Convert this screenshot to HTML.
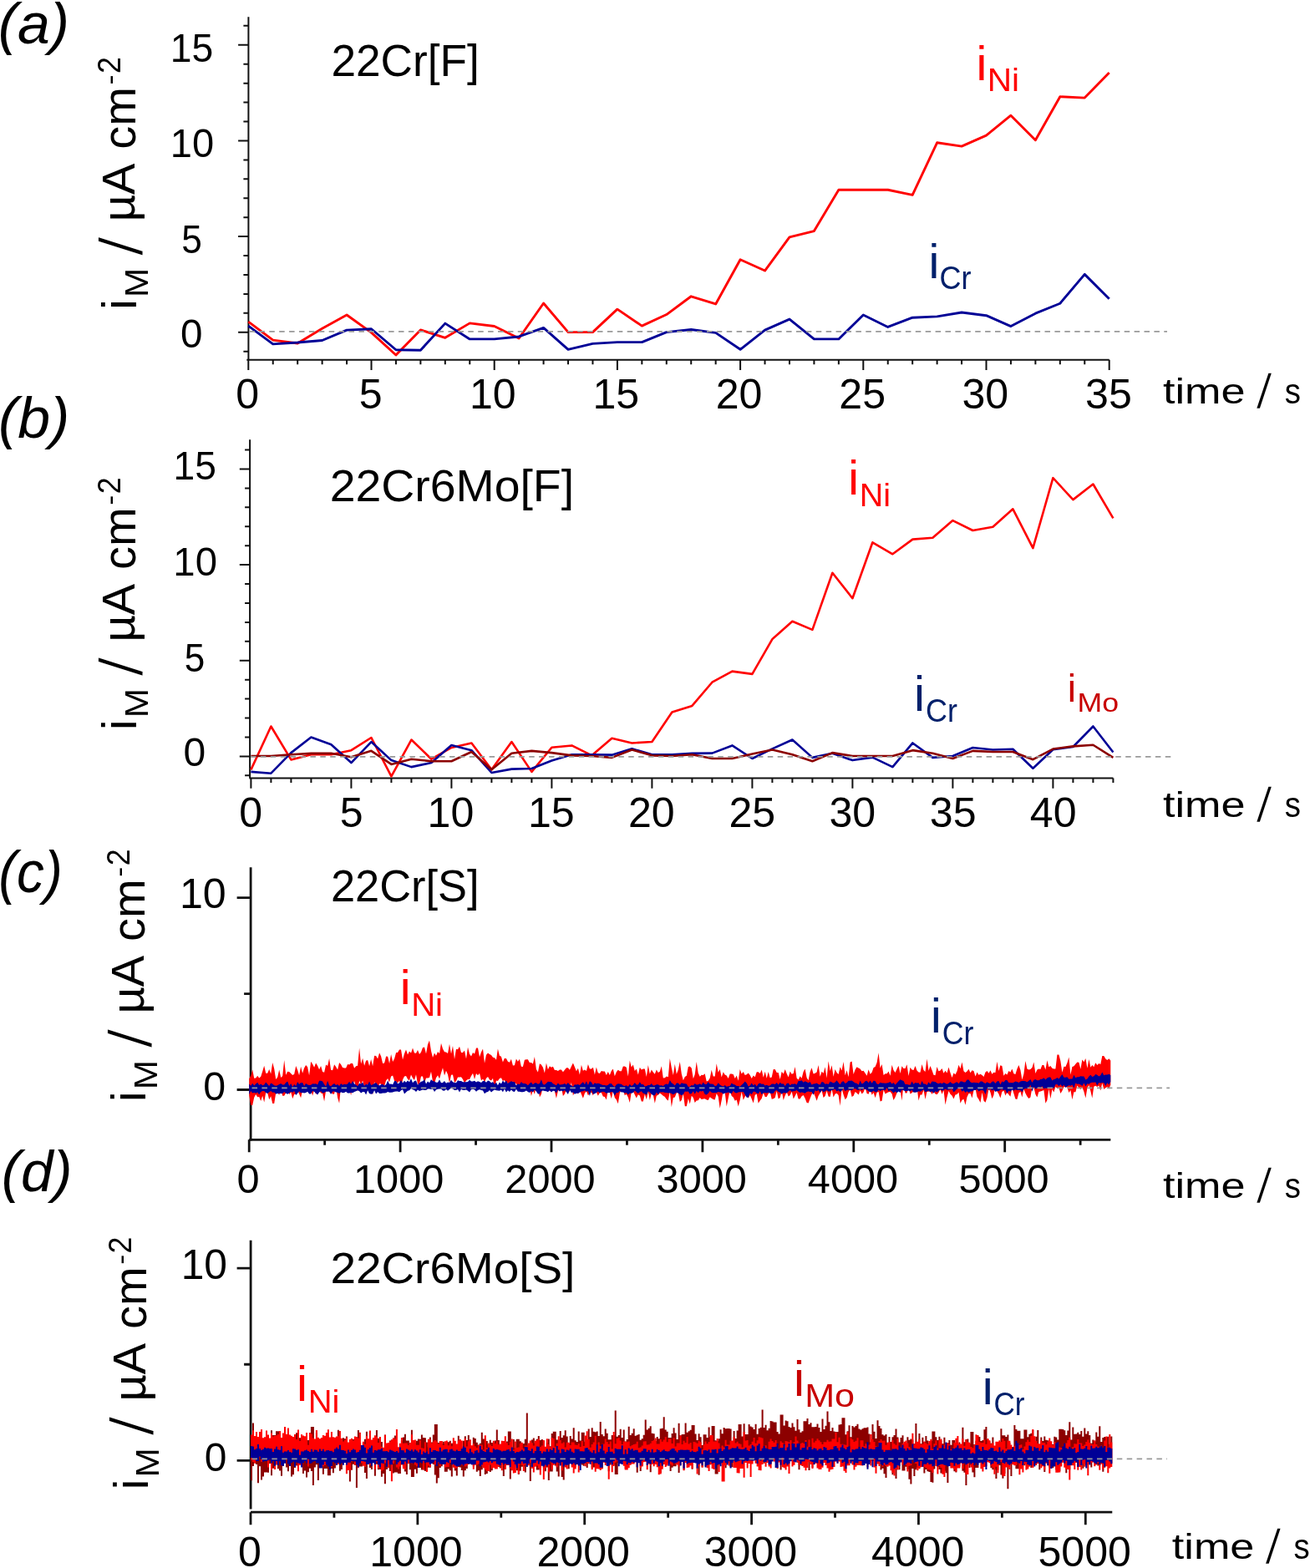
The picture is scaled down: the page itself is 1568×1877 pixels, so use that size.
<!DOCTYPE html>
<html><head><meta charset="utf-8"><title>Figure</title>
<style>html,body{margin:0;padding:0;background:#fff;overflow:hidden;}svg{display:block;}</style>
</head><body>
<svg width="1568" height="1877" viewBox="0 0 1568 1877" font-family="'Liberation Sans', Arial, sans-serif" font-size="100">
<rect width="1568" height="1877" fill="#fff"/>
<path d="M297.4 20.3V430.8" stroke="#111" stroke-width="2.0"/><path d="M295.3 430.8H1327.7" stroke="#111" stroke-width="2.0"/><path d="M297.4 420.68h-6.0M297.4 397.75h-12.3M297.4 374.82h-6.0M297.4 351.89h-6.0M297.4 328.96h-6.0M297.4 306.03h-6.0M297.4 283.1h-12.3M297.4 260.17h-6.0M297.4 237.24h-6.0M297.4 214.31h-6.0M297.4 191.38h-6.0M297.4 168.45h-12.3M297.4 145.52h-6.0M297.4 122.59h-6.0M297.4 99.66h-6.0M297.4 76.73h-6.0M297.4 53.8h-12.3M297.4 30.87h-6.0M297.3 430.8v12.3M326.74 430.8v5.5M356.18 430.8v5.5M385.62 430.8v5.5M415.06 430.8v5.5M444.5 430.8v12.3M473.94 430.8v5.5M503.38 430.8v5.5M532.82 430.8v5.5M562.26 430.8v5.5M591.7 430.8v12.3M621.14 430.8v5.5M650.58 430.8v5.5M680.02 430.8v5.5M709.46 430.8v5.5M738.9 430.8v12.3M768.34 430.8v5.5M797.78 430.8v5.5M827.22 430.8v5.5M856.66 430.8v5.5M886.1 430.8v12.3M915.54 430.8v5.5M944.98 430.8v5.5M974.42 430.8v5.5M1003.86 430.8v5.5M1033.3 430.8v12.3M1062.74 430.8v5.5M1092.18 430.8v5.5M1121.62 430.8v5.5M1151.06 430.8v5.5M1180.5 430.8v12.3M1209.94 430.8v5.5M1239.38 430.8v5.5M1268.82 430.8v5.5M1298.26 430.8v5.5M1327.7 430.8v12.3" stroke="#111" stroke-width="2.0"/>
<polyline points="297.3,385.042 326.74,407.064 356.18,410.964 385.62,393.3 415.06,377.013 444.5,398.118 473.94,424.957 503.38,394.906 532.82,404.311 562.26,386.877 591.7,390.547 621.14,405 650.58,363.019 680.02,397.659 709.46,397.659 738.9,370.131 768.34,390.089 797.78,376.554 827.22,354.761 856.66,363.937 886.1,310.716 915.54,324.021 944.98,283.876 974.42,276.536 1003.86,227.215 1033.3,227.215 1062.74,227.215 1092.18,233.408 1121.62,170.782 1151.06,175.141 1180.5,162.065 1209.94,138.207 1239.38,167.8 1268.82,115.726 1298.26,117.103 1327.7,87.051" fill="none" stroke="#ff0000" stroke-width="2.9" stroke-linejoin="round"/>
<polyline points="297.3,390.089 326.74,411.882 356.18,410.046 385.62,407.523 415.06,395.135 444.5,393.759 473.94,418.764 503.38,419.222 532.82,387.106 562.26,405.917 591.7,405.917 621.14,402.935 650.58,392.383 680.02,418.305 709.46,411.423 738.9,409.588 768.34,409.588 797.78,397.659 827.22,394.447 856.66,398.347 886.1,418.305 915.54,395.135 944.98,382.06 974.42,405.917 1003.86,405.917 1033.3,377.013 1062.74,391.465 1092.18,380.224 1121.62,378.848 1151.06,374.031 1180.5,377.701 1209.94,390.547 1239.38,375.178 1268.82,363.249 1298.26,328.38 1327.7,357.743" fill="none" stroke="#000096" stroke-width="2.9" stroke-linejoin="round"/>
<path d="M298.5 396.8H1397" stroke="#999" stroke-width="1.8" stroke-dasharray="6.5 5.4"/>
<path d="M299.1 526.3V931.4" stroke="#111" stroke-width="2.0"/><path d="M298.4 931.4H1332.4" stroke="#111" stroke-width="2.0"/><path d="M299.1 928.33h-6.0M299.1 905.4h-12.3M299.1 882.47h-6.0M299.1 859.54h-6.0M299.1 836.61h-6.0M299.1 813.68h-6.0M299.1 790.75h-12.3M299.1 767.82h-6.0M299.1 744.89h-6.0M299.1 721.96h-6.0M299.1 699.03h-6.0M299.1 676.1h-12.3M299.1 653.17h-6.0M299.1 630.24h-6.0M299.1 607.31h-6.0M299.1 584.38h-6.0M299.1 561.45h-12.3M299.1 538.52h-6.0M300.4 931.4v12.3M324.4 931.4v5.5M348.4 931.4v5.5M372.4 931.4v5.5M396.4 931.4v5.5M420.4 931.4v12.3M444.4 931.4v5.5M468.4 931.4v5.5M492.4 931.4v5.5M516.4 931.4v5.5M540.4 931.4v12.3M564.4 931.4v5.5M588.4 931.4v5.5M612.4 931.4v5.5M636.4 931.4v5.5M660.4 931.4v12.3M684.4 931.4v5.5M708.4 931.4v5.5M732.4 931.4v5.5M756.4 931.4v5.5M780.4 931.4v12.3M804.4 931.4v5.5M828.4 931.4v5.5M852.4 931.4v5.5M876.4 931.4v5.5M900.4 931.4v12.3M924.4 931.4v5.5M948.4 931.4v5.5M972.4 931.4v5.5M996.4 931.4v5.5M1020.4 931.4v12.3M1044.4 931.4v5.5M1068.4 931.4v5.5M1092.4 931.4v5.5M1116.4 931.4v5.5M1140.4 931.4v12.3M1164.4 931.4v5.5M1188.4 931.4v5.5M1212.4 931.4v5.5M1236.4 931.4v5.5M1260.4 931.4v12.3M1284.4 931.4v5.5M1308.4 931.4v5.5M1332.4 931.4v5.5" stroke="#111" stroke-width="2.0"/>
<polyline points="300.4,921.329 324.4,869.484 348.4,909.4 372.4,903.206 396.4,903.206 420.4,898.159 444.4,883.019 468.4,929.358 492.4,885.542 516.4,908.712 540.4,894.948 564.4,889.442 588.4,921.329 612.4,888.066 636.4,923.852 660.4,894.718 684.4,892.424 708.4,904.353 732.4,883.707 756.4,889.442 780.4,888.066 804.4,852.509 828.4,844.938 852.4,816.722 876.4,803.646 900.4,806.858 924.4,765.107 948.4,743.773 972.4,753.867 996.4,685.735 1020.4,716.245 1044.4,649.26 1068.4,663.254 1092.4,645.59 1116.4,643.755 1140.4,623.109 1164.4,635.037 1188.4,630.679 1212.4,609.345 1236.4,656.142 1260.4,572.182 1284.4,598.104 1308.4,579.523 1332.4,620.356" fill="none" stroke="#ff0000" stroke-width="2.6" stroke-linejoin="round"/>
<polyline points="300.4,923.852 324.4,925.687 348.4,901.141 372.4,882.56 396.4,891.277 420.4,913.07 444.4,888.066 468.4,910.088 492.4,918.117 516.4,913.07 540.4,891.965 564.4,898.159 588.4,924.999 612.4,920.64 636.4,919.952 660.4,910.547 684.4,903.206 708.4,903.206 732.4,903.665 756.4,896.324 780.4,903.206 804.4,903.206 828.4,901.83 852.4,901.6 876.4,892.424 900.4,908.023 924.4,896.324 948.4,885.542 972.4,906.876 996.4,901.83 1020.4,910.088 1044.4,906.647 1068.4,918.117 1092.4,889.442 1116.4,906.876 1140.4,905.041 1164.4,894.948 1188.4,897.471 1212.4,896.783 1236.4,919.723 1260.4,897.242 1284.4,894.03 1308.4,869.484 1332.4,900.453" fill="none" stroke="#000096" stroke-width="2.6" stroke-linejoin="round"/>
<polyline points="300.4,905.041 324.4,905.041 348.4,903.206 372.4,901.83 396.4,901.83 420.4,906.188 444.4,898.847 468.4,914.905 492.4,908.712 516.4,911.235 540.4,911.235 564.4,899.994 588.4,921.329 612.4,901.83 636.4,898.847 660.4,901.141 684.4,904.353 708.4,905.041 732.4,906.876 756.4,897.471 780.4,904.353 804.4,905.041 828.4,903.206 852.4,908.023 876.4,908.023 900.4,902.518 924.4,897.471 948.4,903.206 972.4,911.235 996.4,901.141 1020.4,905.041 1044.4,905.041 1068.4,905.041 1092.4,898.159 1116.4,901.83 1140.4,908.023 1164.4,898.847 1188.4,899.994 1212.4,899.994 1236.4,909.17 1260.4,896.553 1284.4,893.342 1308.4,891.736 1332.4,906.876" fill="none" stroke="#8c0000" stroke-width="2.6" stroke-linejoin="round"/>
<path d="M300 905.8H1404" stroke="#999" stroke-width="1.8" stroke-dasharray="6.5 5.4"/>
<path d="M300.1 1038.3V1365.5" stroke="#111" stroke-width="2.8"/><path d="M298.2 1364.3H1329.33" stroke="#111" stroke-width="2.8"/><path d="M300.1 1074.6h-16.5M300.1 1189.55h-8.0M300.1 1304.5h-16.5M298.2 1364.3v15M388.65 1364.3v6.5M479.1 1364.3v15M569.55 1364.3v6.5M660 1364.3v15M750.45 1364.3v6.5M840.9 1364.3v15M931.35 1364.3v6.5M1021.8 1364.3v15M1112.25 1364.3v6.5M1202.7 1364.3v15M1293.15 1364.3v6.5" stroke="#111" stroke-width="2.8"/>
<path d="M298.2 1291.2L300.2 1287.7L302.2 1280.6L304.2 1290.8L306.2 1290.5L308.2 1287.7L310.2 1290.4L312.2 1288.8L314.2 1282.6L316.2 1275.7L318.2 1284.8L320.2 1284.8L322.2 1280.1L324.2 1285.5L326.2 1272.1L328.2 1279.2L330.2 1292.0L332.2 1289.6L334.2 1280.5L336.2 1289.9L338.2 1287.9L340.2 1269.0L342.2 1286.7L344.2 1282.8L346.2 1283.0L348.2 1285.0L350.2 1287.0L352.2 1285.8L354.2 1276.1L356.2 1281.0L358.1 1287.2L360.1 1276.7L362.1 1284.8L364.1 1278.4L366.1 1274.9L368.1 1277.2L370.1 1287.3L372.1 1270.7L374.1 1273.7L376.1 1277.8L378.1 1272.4L380.1 1275.7L382.1 1280.3L384.1 1276.1L386.1 1283.0L388.1 1283.7L390.1 1274.6L392.1 1275.9L394.1 1267.1L396.1 1280.7L398.1 1281.3L400.1 1274.3L402.1 1276.9L404.1 1280.6L406.1 1272.0L408.1 1274.3L410.1 1278.0L412.1 1278.4L414.1 1278.4L416.1 1274.1L418.1 1274.6L420.1 1272.7L422.1 1273.0L424.1 1278.8L426.1 1276.2L428.1 1275.7L430.1 1254.5L432.1 1273.6L434.1 1266.7L436.1 1275.8L438.1 1269.7L440.1 1268.9L442.1 1276.3L444.1 1267.9L446.1 1276.2L448.1 1263.7L450.1 1263.9L452.1 1267.6L454.1 1260.3L456.1 1264.5L458.1 1273.0L460.1 1272.6L462.1 1264.4L464.1 1264.8L466.1 1272.9L468.1 1262.0L470.1 1271.1L472.1 1267.3L474.1 1260.1L476.0 1260.1L478.0 1256.6L480.0 1256.6L482.0 1268.4L484.0 1261.2L486.0 1256.4L488.0 1262.5L490.0 1258.5L492.0 1260.5L494.0 1254.4L496.0 1260.5L498.0 1260.7L500.0 1257.0L502.0 1261.9L504.0 1259.5L506.0 1254.0L508.0 1253.5L510.0 1261.6L512.0 1250.3L514.0 1245.5L516.0 1258.1L518.0 1266.1L520.0 1260.4L522.0 1263.8L524.0 1259.1L526.0 1261.1L528.0 1248.8L530.0 1255.5L532.0 1259.3L534.0 1259.5L536.0 1261.0L538.0 1249.8L540.0 1261.6L542.0 1252.0L544.0 1268.1L546.0 1255.8L548.0 1256.3L550.0 1252.7L552.0 1260.0L554.0 1260.0L556.0 1257.5L558.0 1267.4L560.0 1253.4L562.0 1261.7L564.0 1264.5L566.0 1260.1L568.0 1261.6L570.0 1254.4L572.0 1254.4L574.0 1265.3L576.0 1259.6L578.0 1255.6L580.0 1272.7L582.0 1262.7L584.0 1260.5L586.0 1261.9L588.0 1262.9L590.0 1265.7L592.0 1266.3L594.0 1268.8L595.9 1255.5L597.9 1263.7L599.9 1264.7L601.9 1271.6L603.9 1266.8L605.9 1266.9L607.9 1270.8L609.9 1271.8L611.9 1267.7L613.9 1275.5L615.9 1275.2L617.9 1267.4L619.9 1270.7L621.9 1267.7L623.9 1276.7L625.9 1277.0L627.9 1268.8L629.9 1268.2L631.9 1268.2L633.9 1272.1L635.9 1272.1L637.9 1273.6L639.9 1264.9L641.9 1280.1L643.9 1283.5L645.9 1273.3L647.9 1274.6L649.9 1277.8L651.9 1284.6L653.9 1272.4L655.9 1280.2L657.9 1276.3L659.9 1277.7L661.9 1276.8L663.9 1281.0L665.9 1280.9L667.9 1281.9L669.9 1280.5L671.9 1280.6L673.9 1283.2L675.9 1280.8L677.9 1278.3L679.9 1278.3L681.9 1280.8L683.9 1276.5L685.9 1272.4L687.9 1277.3L689.9 1282.2L691.9 1278.7L693.9 1286.6L695.9 1274.8L697.9 1281.7L699.9 1280.6L701.9 1281.9L703.9 1273.9L705.9 1279.6L707.9 1279.6L709.9 1277.8L711.9 1286.6L713.8 1277.4L715.8 1284.3L717.8 1284.9L719.8 1282.0L721.8 1282.5L723.8 1282.5L725.8 1286.9L727.8 1282.9L729.8 1287.0L731.8 1281.9L733.8 1279.4L735.8 1288.3L737.8 1283.3L739.8 1280.7L741.8 1282.2L743.8 1282.2L745.8 1276.4L747.8 1276.5L749.8 1277.7L751.8 1288.4L753.8 1269.5L755.8 1277.6L757.8 1274.6L759.8 1282.1L761.8 1279.6L763.8 1286.5L765.8 1277.8L767.8 1280.6L769.8 1279.5L771.8 1279.5L773.8 1288.9L775.8 1274.9L777.8 1285.6L779.8 1280.4L781.8 1283.5L783.8 1285.8L785.8 1280.6L787.8 1283.9L789.8 1282.8L791.8 1276.2L793.8 1290.4L795.8 1290.3L797.8 1288.5L799.8 1289.2L801.8 1267.1L803.8 1278.1L805.8 1287.0L807.8 1273.8L809.8 1285.7L811.8 1280.5L813.8 1271.1L815.8 1285.6L817.8 1293.3L819.8 1289.1L821.8 1287.8L823.8 1277.1L825.8 1276.6L827.8 1278.7L829.8 1291.3L831.7 1286.3L833.7 1271.1L835.7 1284.5L837.7 1288.8L839.7 1286.7L841.7 1286.9L843.7 1285.3L845.7 1294.5L847.7 1293.8L849.7 1290.5L851.7 1280.8L853.7 1288.4L855.7 1288.4L857.7 1273.3L859.7 1283.7L861.7 1280.0L863.7 1289.6L865.7 1283.3L867.7 1286.5L869.7 1287.6L871.7 1290.9L873.7 1285.6L875.7 1285.6L877.7 1285.9L879.7 1290.9L881.7 1287.4L883.7 1293.8L885.7 1279.9L887.7 1285.6L889.7 1283.1L891.7 1287.1L893.7 1286.2L895.7 1284.4L897.7 1287.1L899.7 1291.1L901.7 1287.5L903.7 1289.2L905.7 1283.3L907.7 1283.3L909.7 1285.1L911.7 1280.4L913.7 1289.8L915.7 1282.8L917.7 1290.8L919.7 1282.9L921.7 1290.3L923.7 1289.5L925.7 1280.1L927.7 1280.1L929.7 1284.0L931.7 1284.0L933.7 1292.1L935.7 1282.8L937.7 1285.6L939.7 1280.0L941.7 1285.3L943.7 1289.4L945.7 1282.5L947.7 1285.7L949.7 1284.9L951.6 1277.0L953.6 1290.5L955.6 1292.4L957.6 1288.3L959.6 1290.7L961.6 1283.1L963.6 1279.5L965.6 1290.1L967.6 1293.2L969.6 1282.9L971.6 1278.2L973.6 1285.4L975.6 1284.8L977.6 1283.6L979.6 1274.9L981.6 1288.8L983.6 1282.8L985.6 1284.8L987.6 1277.2L989.6 1290.4L991.6 1270.2L993.6 1282.1L995.6 1275.2L997.6 1288.7L999.6 1280.0L1001.6 1284.0L1003.6 1285.9L1005.6 1277.3L1007.6 1281.4L1009.6 1271.1L1011.6 1287.3L1013.6 1281.3L1015.6 1289.3L1017.6 1271.6L1019.6 1270.6L1021.6 1286.1L1023.6 1280.6L1025.6 1277.2L1027.6 1278.4L1029.6 1279.4L1031.6 1282.2L1033.6 1281.8L1035.6 1284.7L1037.6 1287.8L1039.6 1280.2L1041.6 1285.7L1043.6 1283.8L1045.6 1277.9L1047.6 1277.1L1049.6 1272.1L1051.6 1260.2L1053.6 1278.5L1055.6 1274.1L1057.6 1287.0L1059.6 1285.2L1061.6 1285.3L1063.6 1282.5L1065.6 1287.7L1067.6 1274.8L1069.5 1280.9L1071.5 1284.1L1073.5 1279.8L1075.5 1275.7L1077.5 1285.0L1079.5 1276.2L1081.5 1279.0L1083.5 1279.0L1085.5 1274.2L1087.5 1288.0L1089.5 1277.7L1091.5 1280.5L1093.5 1280.9L1095.5 1276.1L1097.5 1281.4L1099.5 1283.6L1101.5 1283.7L1103.5 1274.0L1105.5 1280.9L1107.5 1282.9L1109.5 1267.4L1111.5 1281.7L1113.5 1276.1L1115.5 1280.9L1117.5 1286.8L1119.5 1287.2L1121.5 1277.1L1123.5 1282.2L1125.5 1281.5L1127.5 1279.1L1129.5 1284.8L1131.5 1281.8L1133.5 1284.6L1135.5 1277.4L1137.5 1284.3L1139.5 1290.1L1141.5 1284.6L1143.5 1286.2L1145.5 1282.3L1147.5 1274.7L1149.5 1279.2L1151.5 1271.5L1153.5 1282.3L1155.5 1284.1L1157.5 1282.4L1159.5 1279.7L1161.5 1284.3L1163.5 1281.2L1165.5 1282.0L1167.5 1288.4L1169.5 1283.4L1171.5 1286.8L1173.5 1285.8L1175.5 1287.0L1177.5 1289.1L1179.5 1283.4L1181.5 1282.0L1183.5 1284.8L1185.5 1281.2L1187.4 1285.7L1189.4 1283.7L1191.4 1283.9L1193.4 1270.8L1195.4 1281.9L1197.4 1275.3L1199.4 1276.1L1201.4 1287.7L1203.4 1285.1L1205.4 1286.6L1207.4 1282.1L1209.4 1283.6L1211.4 1279.4L1213.4 1285.3L1215.4 1285.9L1217.4 1279.4L1219.4 1275.1L1221.4 1280.8L1223.4 1292.4L1225.4 1285.5L1227.4 1269.9L1229.4 1279.6L1231.4 1280.4L1233.4 1279.9L1235.4 1278.1L1237.4 1271.5L1239.4 1284.9L1241.4 1280.4L1243.4 1279.4L1245.4 1280.1L1247.4 1274.9L1249.4 1274.9L1251.4 1280.4L1253.4 1269.3L1255.4 1277.2L1257.4 1275.9L1259.4 1278.7L1261.4 1279.4L1263.4 1279.4L1265.4 1262.6L1267.4 1262.6L1269.4 1270.2L1271.4 1283.8L1273.4 1276.8L1275.4 1277.0L1277.4 1272.3L1279.4 1265.4L1281.4 1286.4L1283.4 1277.1L1285.4 1276.2L1287.4 1273.8L1289.4 1271.4L1291.4 1271.8L1293.4 1279.8L1295.4 1268.4L1297.4 1271.2L1299.4 1267.0L1301.4 1278.7L1303.4 1268.0L1305.4 1277.7L1307.3 1274.9L1309.3 1277.2L1311.3 1272.2L1313.3 1275.0L1315.3 1273.1L1317.3 1274.0L1319.3 1263.9L1321.3 1263.9L1323.3 1267.4L1325.3 1268.9L1327.3 1267.2L1329.3 1269.4L1329.3 1298.7L1327.3 1303.6L1325.3 1301.0L1323.3 1302.2L1321.3 1304.0L1319.3 1296.5L1317.3 1305.4L1315.3 1299.5L1313.3 1300.9L1311.3 1299.8L1309.3 1300.7L1307.3 1314.6L1305.4 1306.2L1303.4 1298.9L1301.4 1302.5L1299.4 1314.4L1297.4 1306.7L1295.4 1301.4L1293.4 1304.1L1291.4 1302.2L1289.4 1299.5L1287.4 1307.3L1285.4 1307.3L1283.4 1316.3L1281.4 1305.1L1279.4 1308.1L1277.4 1301.6L1275.4 1300.9L1273.4 1300.9L1271.4 1305.8L1269.4 1309.1L1267.4 1301.7L1265.4 1302.9L1263.4 1300.7L1261.4 1307.5L1259.4 1304.0L1257.4 1315.3L1255.4 1303.5L1253.4 1316.9L1251.4 1320.7L1249.4 1304.9L1247.4 1305.7L1245.4 1306.5L1243.4 1306.9L1241.4 1313.5L1239.4 1309.9L1237.4 1301.5L1235.4 1301.9L1233.4 1313.5L1231.4 1315.1L1229.4 1312.6L1227.4 1308.8L1225.4 1303.8L1223.4 1313.6L1221.4 1306.8L1219.4 1308.4L1217.4 1316.1L1215.4 1315.6L1213.4 1308.9L1211.4 1302.4L1209.4 1312.8L1207.4 1310.2L1205.4 1307.6L1203.4 1311.5L1201.4 1305.6L1199.4 1307.1L1197.4 1314.5L1195.4 1309.5L1193.4 1306.4L1191.4 1298.7L1189.4 1310.9L1187.4 1315.2L1185.5 1307.7L1183.5 1302.9L1181.5 1314.1L1179.5 1319.7L1177.5 1317.7L1175.5 1307.7L1173.5 1319.9L1171.5 1315.9L1169.5 1313.0L1167.5 1302.9L1165.5 1305.2L1163.5 1314.5L1161.5 1308.9L1159.5 1308.9L1157.5 1313.2L1155.5 1322.7L1153.5 1315.7L1151.5 1316.8L1149.5 1320.8L1147.5 1307.5L1145.5 1310.0L1143.5 1310.5L1141.5 1315.5L1139.5 1311.5L1137.5 1309.7L1135.5 1306.1L1133.5 1313.5L1131.5 1322.4L1129.5 1304.9L1127.5 1309.7L1125.5 1304.3L1123.5 1307.7L1121.5 1310.3L1119.5 1309.6L1117.5 1306.5L1115.5 1309.9L1113.5 1305.9L1111.5 1306.7L1109.5 1306.7L1107.5 1315.9L1105.5 1304.7L1103.5 1310.4L1101.5 1310.4L1099.5 1317.4L1097.5 1301.0L1095.5 1308.2L1093.5 1306.3L1091.5 1308.3L1089.5 1309.4L1087.5 1302.3L1085.5 1308.4L1083.5 1308.5L1081.5 1298.2L1079.5 1317.5L1077.5 1304.6L1075.5 1303.7L1073.5 1308.4L1071.5 1313.5L1069.5 1317.0L1067.6 1309.4L1065.6 1306.9L1063.6 1307.3L1061.6 1308.2L1059.6 1309.5L1057.6 1304.8L1055.6 1317.8L1053.6 1318.4L1051.6 1307.0L1049.6 1307.7L1047.6 1314.3L1045.6 1308.1L1043.6 1310.8L1041.6 1303.7L1039.6 1309.8L1037.6 1309.1L1035.6 1301.9L1033.6 1307.4L1031.6 1309.4L1029.6 1305.4L1027.6 1310.4L1025.6 1308.4L1023.6 1307.1L1021.6 1311.8L1019.6 1313.0L1017.6 1304.4L1015.6 1307.1L1013.6 1314.0L1011.6 1316.2L1009.6 1310.5L1007.6 1303.3L1005.6 1323.8L1003.6 1311.0L1001.6 1308.8L999.6 1309.6L997.6 1313.5L995.6 1303.8L993.6 1313.1L991.6 1312.5L989.6 1305.8L987.6 1311.9L985.6 1314.1L983.6 1305.4L981.6 1308.4L979.6 1311.8L977.6 1317.8L975.6 1312.3L973.6 1307.8L971.6 1310.1L969.6 1314.9L967.6 1320.5L965.6 1320.0L963.6 1314.7L961.6 1310.9L959.6 1312.3L957.6 1315.4L955.6 1315.4L953.6 1307.9L951.6 1312.0L949.7 1315.5L947.7 1306.8L945.7 1311.0L943.7 1312.5L941.7 1307.3L939.7 1311.5L937.7 1316.9L935.7 1305.7L933.7 1314.1L931.7 1315.6L929.7 1306.1L927.7 1314.0L925.7 1315.3L923.7 1315.7L921.7 1306.7L919.7 1309.3L917.7 1313.1L915.7 1313.1L913.7 1308.3L911.7 1315.1L909.7 1317.6L907.7 1320.8L905.7 1309.6L903.7 1310.8L901.7 1320.5L899.7 1315.4L897.7 1311.1L895.7 1314.8L893.7 1309.8L891.7 1312.8L889.7 1316.7L887.7 1306.9L885.7 1316.7L883.7 1324.6L881.7 1316.4L879.7 1317.7L877.7 1313.5L875.7 1311.9L873.7 1304.9L871.7 1314.8L869.7 1324.5L867.7 1307.8L865.7 1305.6L863.7 1317.2L861.7 1326.7L859.7 1312.7L857.7 1308.9L855.7 1316.6L853.7 1315.9L851.7 1314.7L849.7 1313.3L847.7 1317.1L845.7 1316.5L843.7 1315.2L841.7 1315.5L839.7 1316.1L837.7 1313.9L835.7 1317.3L833.7 1317.6L831.7 1320.0L829.8 1314.0L827.8 1311.7L825.8 1321.5L823.8 1314.9L821.8 1324.2L819.8 1324.2L817.8 1309.2L815.8 1317.0L813.8 1319.0L811.8 1308.3L809.8 1308.3L807.8 1313.4L805.8 1314.0L803.8 1325.3L801.8 1306.7L799.8 1317.5L797.8 1315.9L795.8 1312.9L793.8 1311.7L791.8 1309.9L789.8 1308.4L787.8 1310.7L785.8 1311.7L783.8 1320.8L781.8 1310.4L779.8 1308.9L777.8 1316.9L775.8 1306.7L773.8 1316.2L771.8 1309.8L769.8 1318.5L767.8 1318.5L765.8 1311.6L763.8 1310.2L761.8 1314.6L759.8 1310.5L757.8 1306.3L755.8 1306.9L753.8 1319.9L751.8 1313.6L749.8 1309.8L747.8 1311.3L745.8 1304.6L743.8 1304.8L741.8 1308.4L739.8 1321.2L737.8 1316.4L735.8 1314.1L733.8 1305.5L731.8 1315.2L729.8 1308.1L727.8 1304.8L725.8 1316.4L723.8 1313.0L721.8 1312.5L719.8 1308.0L717.8 1308.3L715.8 1311.7L713.8 1307.5L711.9 1302.6L709.9 1311.4L707.9 1307.6L705.9 1309.1L703.9 1311.3L701.9 1306.3L699.9 1308.8L697.9 1314.7L695.9 1310.1L693.9 1304.8L691.9 1310.1L689.9 1300.9L687.9 1307.2L685.9 1311.4L683.9 1295.5L681.9 1306.5L679.9 1307.3L677.9 1304.5L675.9 1309.6L673.9 1311.9L671.9 1301.2L669.9 1303.7L667.9 1306.0L665.9 1314.8L663.9 1306.2L661.9 1303.0L659.9 1306.6L657.9 1305.8L655.9 1304.6L653.9 1303.9L651.9 1305.4L649.9 1300.0L647.9 1309.7L645.9 1313.6L643.9 1299.5L641.9 1298.9L639.9 1310.0L637.9 1304.7L635.9 1311.9L633.9 1301.2L631.9 1303.9L629.9 1303.4L627.9 1297.1L625.9 1301.6L623.9 1301.1L621.9 1300.9L619.9 1302.6L617.9 1296.9L615.9 1297.3L613.9 1294.5L611.9 1297.8L609.9 1300.3L607.9 1296.2L605.9 1297.6L603.9 1292.9L601.9 1294.0L599.9 1290.2L597.9 1291.1L595.9 1293.9L594.0 1293.6L592.0 1304.6L590.0 1290.7L588.0 1293.6L586.0 1292.6L584.0 1289.1L582.0 1290.8L580.0 1295.2L578.0 1291.5L576.0 1293.5L574.0 1284.7L572.0 1287.2L570.0 1285.0L568.0 1292.0L566.0 1284.7L564.0 1287.9L562.0 1292.1L560.0 1292.1L558.0 1293.5L556.0 1296.4L554.0 1292.0L552.0 1289.2L550.0 1289.4L548.0 1289.4L546.0 1294.0L544.0 1296.0L542.0 1286.5L540.0 1286.8L538.0 1296.6L536.0 1286.2L534.0 1281.7L532.0 1287.6L530.0 1278.3L528.0 1284.2L526.0 1291.4L524.0 1287.3L522.0 1290.3L520.0 1297.1L518.0 1294.7L516.0 1282.8L514.0 1289.9L512.0 1290.4L510.0 1290.4L508.0 1297.2L506.0 1288.5L504.0 1288.5L502.0 1297.8L500.0 1297.8L498.0 1286.2L496.0 1293.1L494.0 1290.5L492.0 1286.6L490.0 1293.6L488.0 1291.8L486.0 1288.0L484.0 1288.5L482.0 1292.4L480.0 1303.2L478.0 1293.4L476.0 1296.4L474.1 1294.5L472.1 1294.0L470.1 1287.4L468.1 1288.4L466.1 1295.6L464.1 1291.0L462.1 1293.6L460.1 1299.9L458.1 1307.0L456.1 1297.4L454.1 1297.3L452.1 1305.4L450.1 1304.4L448.1 1294.7L446.1 1310.4L444.1 1302.9L442.1 1300.9L440.1 1298.5L438.1 1298.0L436.1 1301.8L434.1 1293.5L432.1 1298.8L430.1 1293.4L428.1 1306.5L426.1 1302.1L424.1 1294.1L422.1 1299.8L420.1 1311.3L418.1 1302.4L416.1 1308.3L414.1 1302.1L412.1 1304.9L410.1 1304.9L408.1 1300.1L406.1 1320.7L404.1 1314.0L402.1 1300.2L400.1 1309.4L398.1 1309.7L396.1 1306.5L394.1 1307.6L392.1 1303.9L390.1 1305.4L388.1 1318.4L386.1 1309.1L384.1 1308.6L382.1 1305.5L380.1 1303.5L378.1 1310.0L376.1 1304.4L374.1 1311.7L372.1 1303.7L370.1 1306.8L368.1 1298.3L366.1 1299.2L364.1 1304.0L362.1 1304.9L360.1 1314.2L358.1 1309.4L356.2 1305.6L354.2 1309.7L352.2 1309.9L350.2 1315.2L348.2 1307.3L346.2 1310.3L344.2 1302.2L342.2 1308.3L340.2 1311.7L338.2 1311.8L336.2 1304.3L334.2 1310.8L332.2 1308.0L330.2 1308.4L328.2 1320.9L326.2 1320.9L324.2 1312.2L322.2 1316.3L320.2 1308.2L318.2 1308.0L316.2 1319.6L314.2 1311.7L312.2 1318.1L310.2 1313.0L308.2 1313.3L306.2 1310.1L304.2 1313.8L302.2 1323.1L300.2 1323.1L298.2 1311.2Z" fill="#ff0000"/>
<path d="M298.2 1297.4L300.2 1299.7L302.2 1296.7L304.2 1299.4L306.2 1297.4L308.2 1295.8L310.2 1299.1L312.2 1297.5L314.2 1299.2L316.2 1298.4L318.2 1295.6L320.2 1297.7L322.2 1300.1L324.2 1296.6L326.2 1297.6L328.2 1299.3L330.2 1299.7L332.2 1299.2L334.2 1298.1L336.2 1296.9L338.2 1298.6L340.2 1298.5L342.2 1295.9L344.2 1294.4L346.2 1299.9L348.2 1297.1L350.2 1301.0L352.2 1298.0L354.2 1300.0L356.2 1295.0L358.1 1297.9L360.1 1296.1L362.1 1296.1L364.1 1300.1L366.1 1296.9L368.1 1298.2L370.1 1298.9L372.1 1298.7L374.1 1297.2L376.1 1297.4L378.1 1297.3L380.1 1298.4L382.1 1293.7L384.1 1293.7L386.1 1294.6L388.1 1298.1L390.1 1300.4L392.1 1293.7L394.1 1299.3L396.1 1300.2L398.1 1298.3L400.1 1297.1L402.1 1298.9L404.1 1298.0L406.1 1300.0L408.1 1296.9L410.1 1298.8L412.1 1297.7L414.1 1298.2L416.1 1297.6L418.1 1294.8L420.1 1297.7L422.1 1294.1L424.1 1297.4L426.1 1298.6L428.1 1300.3L430.1 1296.8L432.1 1297.6L434.1 1295.4L436.1 1299.8L438.1 1297.7L440.1 1298.6L442.1 1294.6L444.1 1299.0L446.1 1298.3L448.1 1297.0L450.1 1296.0L452.1 1298.6L454.1 1299.4L456.1 1298.3L458.1 1297.8L460.1 1299.6L462.1 1298.3L464.1 1293.4L466.1 1297.8L468.1 1297.6L470.1 1298.3L472.1 1294.1L474.1 1294.1L476.0 1297.3L478.0 1296.6L480.0 1293.1L482.0 1296.6L484.0 1293.7L486.0 1295.7L488.0 1293.6L490.0 1295.2L492.0 1291.0L494.0 1296.2L496.0 1294.1L498.0 1293.5L500.0 1298.7L502.0 1296.5L504.0 1294.7L506.0 1294.2L508.0 1292.1L510.0 1297.4L512.0 1294.4L514.0 1296.3L516.0 1292.3L518.0 1294.0L520.0 1294.5L522.0 1295.8L524.0 1295.8L526.0 1292.3L528.0 1296.2L530.0 1296.0L532.0 1293.9L534.0 1296.7L536.0 1295.4L538.0 1296.0L540.0 1292.8L542.0 1295.3L544.0 1296.1L546.0 1296.2L548.0 1293.3L550.0 1293.9L552.0 1293.9L554.0 1295.2L556.0 1295.2L558.0 1295.2L560.0 1295.1L562.0 1292.7L564.0 1294.5L566.0 1294.5L568.0 1293.7L570.0 1295.4L572.0 1294.3L574.0 1295.1L576.0 1296.0L578.0 1294.1L580.0 1294.1L582.0 1295.7L584.0 1293.5L586.0 1294.3L588.0 1296.2L590.0 1295.1L592.0 1297.9L594.0 1295.8L595.9 1299.2L597.9 1295.4L599.9 1297.4L601.9 1293.5L603.9 1296.1L605.9 1293.5L607.9 1296.9L609.9 1295.4L611.9 1294.3L613.9 1295.1L615.9 1295.1L617.9 1299.6L619.9 1297.3L621.9 1298.2L623.9 1294.9L625.9 1297.0L627.9 1297.0L629.9 1297.5L631.9 1299.2L633.9 1297.0L635.9 1295.5L637.9 1298.2L639.9 1296.4L641.9 1296.2L643.9 1297.8L645.9 1296.9L647.9 1292.3L649.9 1297.9L651.9 1298.6L653.9 1296.8L655.9 1294.8L657.9 1295.0L659.9 1295.0L661.9 1297.3L663.9 1298.2L665.9 1299.3L667.9 1296.6L669.9 1298.5L671.9 1298.3L673.9 1297.9L675.9 1297.0L677.9 1298.5L679.9 1296.1L681.9 1298.5L683.9 1299.2L685.9 1300.7L687.9 1298.2L689.9 1298.5L691.9 1298.0L693.9 1299.1L695.9 1297.1L697.9 1295.3L699.9 1298.2L701.9 1294.2L703.9 1299.1L705.9 1294.2L707.9 1295.4L709.9 1298.7L711.9 1296.3L713.8 1297.2L715.8 1296.7L717.8 1297.3L719.8 1298.2L721.8 1299.1L723.8 1298.9L725.8 1299.5L727.8 1298.8L729.8 1296.9L731.8 1296.9L733.8 1299.6L735.8 1301.0L737.8 1298.2L739.8 1297.2L741.8 1297.5L743.8 1297.8L745.8 1299.6L747.8 1300.0L749.8 1299.2L751.8 1300.8L753.8 1297.8L755.8 1299.9L757.8 1298.7L759.8 1296.1L761.8 1298.5L763.8 1298.5L765.8 1295.3L767.8 1298.0L769.8 1298.1L771.8 1300.5L773.8 1300.1L775.8 1299.0L777.8 1298.9L779.8 1297.1L781.8 1299.6L783.8 1299.3L785.8 1298.3L787.8 1298.3L789.8 1299.5L791.8 1299.2L793.8 1300.0L795.8 1298.2L797.8 1297.6L799.8 1298.3L801.8 1292.9L803.8 1296.3L805.8 1297.6L807.8 1299.4L809.8 1296.6L811.8 1296.6L813.8 1298.8L815.8 1296.2L817.8 1297.0L819.8 1297.3L821.8 1297.4L823.8 1301.1L825.8 1300.8L827.8 1298.9L829.8 1299.6L831.7 1297.1L833.7 1298.5L835.7 1298.3L837.7 1297.3L839.7 1298.7L841.7 1295.5L843.7 1297.9L845.7 1297.9L847.7 1295.0L849.7 1297.5L851.7 1297.5L853.7 1297.8L855.7 1299.9L857.7 1299.4L859.7 1296.3L861.7 1298.4L863.7 1299.7L865.7 1300.4L867.7 1298.9L869.7 1300.8L871.7 1300.3L873.7 1300.1L875.7 1296.6L877.7 1298.0L879.7 1298.5L881.7 1299.9L883.7 1300.1L885.7 1300.7L887.7 1298.8L889.7 1297.0L891.7 1294.6L893.7 1296.5L895.7 1300.4L897.7 1299.6L899.7 1296.4L901.7 1299.3L903.7 1297.7L905.7 1300.6L907.7 1297.6L909.7 1296.5L911.7 1297.8L913.7 1297.6L915.7 1299.5L917.7 1298.8L919.7 1299.8L921.7 1299.4L923.7 1297.6L925.7 1297.5L927.7 1298.0L929.7 1296.0L931.7 1298.4L933.7 1295.8L935.7 1297.4L937.7 1297.2L939.7 1300.1L941.7 1297.0L943.7 1296.5L945.7 1299.2L947.7 1297.4L949.7 1297.7L951.6 1297.3L953.6 1298.5L955.6 1294.1L957.6 1294.1L959.6 1293.3L961.6 1295.7L963.6 1294.3L965.6 1295.3L967.6 1296.3L969.6 1294.9L971.6 1298.5L973.6 1297.4L975.6 1297.3L977.6 1296.4L979.6 1297.9L981.6 1298.4L983.6 1295.0L985.6 1295.6L987.6 1297.7L989.6 1297.2L991.6 1298.0L993.6 1294.6L995.6 1295.4L997.6 1296.4L999.6 1295.5L1001.6 1293.2L1003.6 1296.0L1005.6 1298.3L1007.6 1295.1L1009.6 1294.2L1011.6 1297.1L1013.6 1296.0L1015.6 1293.7L1017.6 1293.7L1019.6 1293.4L1021.6 1295.1L1023.6 1296.4L1025.6 1296.8L1027.6 1298.8L1029.6 1293.5L1031.6 1297.4L1033.6 1296.4L1035.6 1294.2L1037.6 1293.7L1039.6 1296.3L1041.6 1293.6L1043.6 1296.8L1045.6 1293.7L1047.6 1294.0L1049.6 1297.4L1051.6 1297.9L1053.6 1295.7L1055.6 1296.4L1057.6 1296.5L1059.6 1296.8L1061.6 1296.6L1063.6 1296.1L1065.6 1295.1L1067.6 1297.6L1069.5 1296.1L1071.5 1298.5L1073.5 1296.4L1075.5 1294.2L1077.5 1292.3L1079.5 1293.3L1081.5 1294.0L1083.5 1298.1L1085.5 1298.1L1087.5 1298.5L1089.5 1298.7L1091.5 1294.6L1093.5 1297.8L1095.5 1296.0L1097.5 1296.5L1099.5 1296.3L1101.5 1298.9L1103.5 1294.1L1105.5 1297.6L1107.5 1297.6L1109.5 1298.9L1111.5 1295.2L1113.5 1297.7L1115.5 1294.5L1117.5 1294.8L1119.5 1294.9L1121.5 1296.5L1123.5 1297.2L1125.5 1296.2L1127.5 1297.3L1129.5 1295.8L1131.5 1296.8L1133.5 1297.7L1135.5 1296.7L1137.5 1294.9L1139.5 1297.1L1141.5 1297.3L1143.5 1296.0L1145.5 1295.2L1147.5 1297.2L1149.5 1294.4L1151.5 1294.4L1153.5 1295.6L1155.5 1295.6L1157.5 1292.5L1159.5 1292.5L1161.5 1295.3L1163.5 1296.2L1165.5 1295.7L1167.5 1296.1L1169.5 1296.1L1171.5 1296.7L1173.5 1294.6L1175.5 1294.6L1177.5 1296.1L1179.5 1297.0L1181.5 1295.2L1183.5 1296.4L1185.5 1296.9L1187.4 1294.7L1189.4 1294.6L1191.4 1297.1L1193.4 1294.6L1195.4 1294.1L1197.4 1298.2L1199.4 1294.5L1201.4 1295.4L1203.4 1292.9L1205.4 1292.9L1207.4 1295.9L1209.4 1295.9L1211.4 1296.2L1213.4 1295.8L1215.4 1294.5L1217.4 1295.1L1219.4 1295.9L1221.4 1294.4L1223.4 1294.0L1225.4 1294.0L1227.4 1294.3L1229.4 1295.2L1231.4 1293.7L1233.4 1292.0L1235.4 1296.0L1237.4 1292.8L1239.4 1291.9L1241.4 1293.3L1243.4 1293.3L1245.4 1292.1L1247.4 1291.7L1249.4 1290.3L1251.4 1292.5L1253.4 1290.6L1255.4 1289.5L1257.4 1289.5L1259.4 1293.6L1261.4 1292.1L1263.4 1291.4L1265.4 1290.1L1267.4 1291.4L1269.4 1288.8L1271.4 1285.9L1273.4 1289.7L1275.4 1289.7L1277.4 1289.2L1279.4 1291.7L1281.4 1291.5L1283.4 1291.4L1285.4 1286.7L1287.4 1290.2L1289.4 1289.3L1291.4 1289.3L1293.4 1288.3L1295.4 1288.6L1297.4 1288.6L1299.4 1292.4L1301.4 1291.6L1303.4 1288.4L1305.4 1286.8L1307.3 1289.1L1309.3 1288.3L1311.3 1285.9L1313.3 1286.7L1315.3 1288.6L1317.3 1287.3L1319.3 1283.4L1321.3 1287.2L1323.3 1286.5L1325.3 1286.5L1327.3 1285.7L1329.3 1286.9L1329.3 1294.9L1327.3 1298.5L1325.3 1296.2L1323.3 1299.9L1321.3 1296.2L1319.3 1296.0L1317.3 1296.6L1315.3 1295.9L1313.3 1299.5L1311.3 1295.6L1309.3 1295.7L1307.3 1295.7L1305.4 1296.2L1303.4 1297.8L1301.4 1297.3L1299.4 1300.5L1297.4 1296.4L1295.4 1300.1L1293.4 1298.4L1291.4 1297.6L1289.4 1297.7L1287.4 1296.6L1285.4 1302.4L1283.4 1298.4L1281.4 1299.7L1279.4 1299.3L1277.4 1300.6L1275.4 1302.0L1273.4 1298.7L1271.4 1300.7L1269.4 1298.0L1267.4 1300.2L1265.4 1298.1L1263.4 1298.3L1261.4 1302.4L1259.4 1302.4L1257.4 1301.9L1255.4 1303.1L1253.4 1303.1L1251.4 1302.6L1249.4 1303.2L1247.4 1300.3L1245.4 1302.0L1243.4 1300.9L1241.4 1302.8L1239.4 1303.5L1237.4 1300.9L1235.4 1306.8L1233.4 1298.4L1231.4 1302.6L1229.4 1303.3L1227.4 1303.1L1225.4 1303.7L1223.4 1307.2L1221.4 1305.2L1219.4 1304.7L1217.4 1304.9L1215.4 1304.2L1213.4 1305.5L1211.4 1304.4L1209.4 1306.8L1207.4 1305.4L1205.4 1308.9L1203.4 1304.6L1201.4 1304.9L1199.4 1303.9L1197.4 1304.4L1195.4 1306.3L1193.4 1306.0L1191.4 1306.9L1189.4 1304.2L1187.4 1305.6L1185.5 1303.6L1183.5 1304.8L1181.5 1302.8L1179.5 1310.2L1177.5 1305.8L1175.5 1305.1L1173.5 1305.2L1171.5 1306.5L1169.5 1303.9L1167.5 1305.1L1165.5 1305.1L1163.5 1306.4L1161.5 1306.5L1159.5 1308.0L1157.5 1306.2L1155.5 1308.1L1153.5 1305.3L1151.5 1306.7L1149.5 1303.0L1147.5 1303.3L1145.5 1303.4L1143.5 1305.4L1141.5 1307.4L1139.5 1303.6L1137.5 1304.2L1135.5 1304.4L1133.5 1304.7L1131.5 1303.5L1129.5 1305.2L1127.5 1305.4L1125.5 1304.2L1123.5 1305.7L1121.5 1307.4L1119.5 1306.2L1117.5 1308.7L1115.5 1306.2L1113.5 1307.4L1111.5 1305.4L1109.5 1306.5L1107.5 1307.3L1105.5 1304.2L1103.5 1305.6L1101.5 1306.7L1099.5 1306.3L1097.5 1307.4L1095.5 1307.6L1093.5 1307.8L1091.5 1304.8L1089.5 1306.5L1087.5 1305.6L1085.5 1306.1L1083.5 1306.3L1081.5 1305.3L1079.5 1304.5L1077.5 1308.0L1075.5 1306.6L1073.5 1308.2L1071.5 1306.5L1069.5 1308.4L1067.6 1306.6L1065.6 1304.9L1063.6 1306.2L1061.6 1301.9L1059.6 1305.3L1057.6 1304.8L1055.6 1304.8L1053.6 1306.2L1051.6 1304.4L1049.6 1307.2L1047.6 1307.2L1045.6 1305.7L1043.6 1307.2L1041.6 1307.2L1039.6 1306.2L1037.6 1304.4L1035.6 1304.0L1033.6 1303.2L1031.6 1305.3L1029.6 1303.5L1027.6 1304.9L1025.6 1304.5L1023.6 1303.0L1021.6 1303.5L1019.6 1305.3L1017.6 1305.0L1015.6 1304.4L1013.6 1305.1L1011.6 1306.1L1009.6 1302.9L1007.6 1305.6L1005.6 1307.3L1003.6 1305.3L1001.6 1306.6L999.6 1303.8L997.6 1304.6L995.6 1305.1L993.6 1306.6L991.6 1306.6L989.6 1304.9L987.6 1306.2L985.6 1307.5L983.6 1304.9L981.6 1308.2L979.6 1304.9L977.6 1306.3L975.6 1305.2L973.6 1310.8L971.6 1306.9L969.6 1306.9L967.6 1306.5L965.6 1307.1L963.6 1308.7L961.6 1308.1L959.6 1307.5L957.6 1308.0L955.6 1306.8L953.6 1305.1L951.6 1305.9L949.7 1306.2L947.7 1306.8L945.7 1304.9L943.7 1306.6L941.7 1308.5L939.7 1308.2L937.7 1307.9L935.7 1309.8L933.7 1307.8L931.7 1307.1L929.7 1305.1L927.7 1305.7L925.7 1308.8L923.7 1309.0L921.7 1308.8L919.7 1307.7L917.7 1308.6L915.7 1308.0L913.7 1308.2L911.7 1310.2L909.7 1306.2L907.7 1309.2L905.7 1308.6L903.7 1306.7L901.7 1306.7L899.7 1309.9L897.7 1308.4L895.7 1313.8L893.7 1313.8L891.7 1310.3L889.7 1307.0L887.7 1307.1L885.7 1307.2L883.7 1307.4L881.7 1308.4L879.7 1308.0L877.7 1305.8L875.7 1309.3L873.7 1308.5L871.7 1307.5L869.7 1308.3L867.7 1308.4L865.7 1309.7L863.7 1307.7L861.7 1307.5L859.7 1307.0L857.7 1308.1L855.7 1308.1L853.7 1308.2L851.7 1307.7L849.7 1306.0L847.7 1308.8L845.7 1310.6L843.7 1310.1L841.7 1305.8L839.7 1306.6L837.7 1306.1L835.7 1308.2L833.7 1305.9L831.7 1309.8L829.8 1306.2L827.8 1309.0L825.8 1309.8L823.8 1306.4L821.8 1306.8L819.8 1306.6L817.8 1309.9L815.8 1311.3L813.8 1310.0L811.8 1308.5L809.8 1307.8L807.8 1309.1L805.8 1310.3L803.8 1309.0L801.8 1308.3L799.8 1308.6L797.8 1308.0L795.8 1308.1L793.8 1307.2L791.8 1307.4L789.8 1307.2L787.8 1310.2L785.8 1307.5L783.8 1311.2L781.8 1311.2L779.8 1309.7L777.8 1307.6L775.8 1306.2L773.8 1310.7L771.8 1309.3L769.8 1308.8L767.8 1306.2L765.8 1307.2L763.8 1309.0L761.8 1307.3L759.8 1305.4L757.8 1308.0L755.8 1308.8L753.8 1308.5L751.8 1310.6L749.8 1308.1L747.8 1308.6L745.8 1307.4L743.8 1307.6L741.8 1306.0L739.8 1308.1L737.8 1308.1L735.8 1311.7L733.8 1307.4L731.8 1307.0L729.8 1308.0L727.8 1308.1L725.8 1308.9L723.8 1307.2L721.8 1306.8L719.8 1307.3L717.8 1308.6L715.8 1306.4L713.8 1308.1L711.9 1309.2L709.9 1309.7L707.9 1304.4L705.9 1312.1L703.9 1305.9L701.9 1306.8L699.9 1305.3L697.9 1306.2L695.9 1306.4L693.9 1307.8L691.9 1308.8L689.9 1308.7L687.9 1309.7L685.9 1307.6L683.9 1307.9L681.9 1304.7L679.9 1310.0L677.9 1307.2L675.9 1305.1L673.9 1306.5L671.9 1305.4L669.9 1306.6L667.9 1304.6L665.9 1308.6L663.9 1306.0L661.9 1305.7L659.9 1307.4L657.9 1305.1L655.9 1307.2L653.9 1306.2L651.9 1306.0L649.9 1305.5L647.9 1306.1L645.9 1309.4L643.9 1309.4L641.9 1306.6L639.9 1304.5L637.9 1307.4L635.9 1306.0L633.9 1308.0L631.9 1307.0L629.9 1305.5L627.9 1306.7L625.9 1307.2L623.9 1307.2L621.9 1306.8L619.9 1306.8L617.9 1303.8L615.9 1306.9L613.9 1306.6L611.9 1304.4L609.9 1306.9L607.9 1305.3L605.9 1307.6L603.9 1303.6L601.9 1307.2L599.9 1304.4L597.9 1305.7L595.9 1305.4L594.0 1305.2L592.0 1304.6L590.0 1305.8L588.0 1307.4L586.0 1305.0L584.0 1307.1L582.0 1307.4L580.0 1309.2L578.0 1305.5L576.0 1305.0L574.0 1304.2L572.0 1305.1L570.0 1306.7L568.0 1304.4L566.0 1303.8L564.0 1304.3L562.0 1307.6L560.0 1305.8L558.0 1304.6L556.0 1304.9L554.0 1304.9L552.0 1303.7L550.0 1307.4L548.0 1304.0L546.0 1305.0L544.0 1304.9L542.0 1303.6L540.0 1302.6L538.0 1304.0L536.0 1305.7L534.0 1304.1L532.0 1305.7L530.0 1305.4L528.0 1303.4L526.0 1303.6L524.0 1303.8L522.0 1304.5L520.0 1307.1L518.0 1303.5L516.0 1304.0L514.0 1303.5L512.0 1303.5L510.0 1304.9L508.0 1304.9L506.0 1304.4L504.0 1305.3L502.0 1306.0L500.0 1304.6L498.0 1307.1L496.0 1305.1L494.0 1304.3L492.0 1303.0L490.0 1305.2L488.0 1305.8L486.0 1307.6L484.0 1309.6L482.0 1304.2L480.0 1305.2L478.0 1307.3L476.0 1306.6L474.1 1306.5L472.1 1306.8L470.1 1307.4L468.1 1307.7L466.1 1307.7L464.1 1307.1L462.1 1308.2L460.1 1308.5L458.1 1308.5L456.1 1309.0L454.1 1309.1L452.1 1307.1L450.1 1309.6L448.1 1305.3L446.1 1309.2L444.1 1309.7L442.1 1309.0L440.1 1305.2L438.1 1310.4L436.1 1307.1L434.1 1306.9L432.1 1308.4L430.1 1306.3L428.1 1305.2L426.1 1306.2L424.1 1307.1L422.1 1308.3L420.1 1308.1L418.1 1308.5L416.1 1308.5L414.1 1306.8L412.1 1307.9L410.1 1308.3L408.1 1307.2L406.1 1308.9L404.1 1307.8L402.1 1307.5L400.1 1306.4L398.1 1306.4L396.1 1310.0L394.1 1306.5L392.1 1306.7L390.1 1306.7L388.1 1308.1L386.1 1308.6L384.1 1306.2L382.1 1307.4L380.1 1310.5L378.1 1308.7L376.1 1306.8L374.1 1306.1L372.1 1309.4L370.1 1309.4L368.1 1306.8L366.1 1307.9L364.1 1308.4L362.1 1308.1L360.1 1308.2L358.1 1306.2L356.2 1308.7L354.2 1310.9L352.2 1306.1L350.2 1307.8L348.2 1306.9L346.2 1308.4L344.2 1309.8L342.2 1308.7L340.2 1307.1L338.2 1308.9L336.2 1309.1L334.2 1309.1L332.2 1308.9L330.2 1309.4L328.2 1307.4L326.2 1307.8L324.2 1306.1L322.2 1307.3L320.2 1309.0L318.2 1307.9L316.2 1305.9L314.2 1306.1L312.2 1307.0L310.2 1310.3L308.2 1307.5L306.2 1308.8L304.2 1307.7L302.2 1308.4L300.2 1306.1L298.2 1310.3Z" fill="#000096"/>
<path d="M301.5 1302.3H1400" stroke="#999" stroke-width="1.8" stroke-dasharray="6.5 5.4"/>
<path d="M300.1 1484.7V1806.5" stroke="#111" stroke-width="2.8"/><path d="M300 1810.2H1331.278" stroke="#111" stroke-width="2.8"/><path d="M300.1 1518.2h-16.5M300.1 1633.25h-8.0M300.1 1748.3h-16.5M300 1810.2v15M399.93 1810.2v6.5M499.86 1810.2v15M599.79 1810.2v6.5M699.72 1810.2v15M799.65 1810.2v6.5M899.58 1810.2v15M999.51 1810.2v6.5M1099.44 1810.2v15M1199.37 1810.2v6.5M1299.3 1810.2v15" stroke="#111" stroke-width="2.8"/>
<path d="M301.0 1718.1V1772.2M303.0 1703.4V1754.9M305.0 1723.8V1748.6M307.0 1730.1V1753.0M309.0 1729.9V1775.3M311.0 1725.4V1755.2M313.0 1733.7V1771.5M315.0 1728.3V1767.6M317.0 1723.3V1762.6M319.0 1725.8V1762.6M321.0 1725.8V1762.7M323.0 1727.6V1751.9M325.0 1712.3V1766.3M327.0 1718.0V1757.8M329.0 1718.0V1755.2M331.0 1713.3V1753.5M333.0 1713.3V1758.2M335.0 1731.8V1760.4M337.0 1722.1V1766.8M339.0 1723.1V1749.1M341.0 1716.6V1749.6M343.0 1723.0V1756.5M345.0 1722.8V1761.3M347.0 1728.6V1752.3M349.0 1728.7V1767.4M351.0 1728.7V1765.2M353.0 1733.1V1757.0M355.0 1715.2V1754.4M357.0 1715.4V1756.3M359.0 1721.3V1753.6M361.0 1726.8V1746.9M363.0 1719.7V1763.9M365.0 1720.6V1760.4M367.0 1730.2V1768.6M369.0 1724.0V1762.3M371.0 1731.5V1757.8M372.9 1708.1V1760.9M374.9 1708.1V1778.0M376.9 1723.8V1756.4M378.9 1714.8V1753.3M380.9 1728.2V1772.1M382.9 1733.9V1756.8M384.9 1721.6V1750.2M386.9 1726.1V1764.8M388.9 1725.9V1758.1M390.9 1725.0V1758.1M392.9 1718.3V1766.3M394.9 1729.9V1766.3M396.9 1729.7V1758.1M398.9 1732.4V1763.2M400.9 1729.5V1757.5M402.9 1726.8V1751.0M404.9 1711.8V1750.8M406.9 1732.6V1760.8M408.9 1729.5V1759.0M410.9 1721.3V1744.0M412.9 1722.3V1742.0M414.9 1719.5V1747.9M416.9 1733.9V1756.4M418.9 1736.5V1773.6M420.9 1722.1V1759.8M422.9 1723.1V1752.7M424.9 1721.8V1753.8M426.9 1729.4V1781.1M428.9 1712.0V1751.3M430.9 1727.0V1755.4M432.9 1732.2V1755.4M434.9 1727.4V1752.2M436.9 1722.7V1763.1M438.9 1713.8V1770.0M440.9 1725.4V1751.9M442.9 1724.1V1757.0M444.9 1729.4V1758.9M446.9 1722.4V1750.9M448.9 1723.0V1766.8M450.9 1712.0V1752.7M452.9 1721.8V1759.3M454.9 1721.3V1759.0M456.9 1726.1V1767.7M458.9 1735.3V1763.9M460.9 1717.6V1776.2M462.9 1731.4V1759.1M464.9 1732.3V1749.0M466.9 1724.5V1761.0M468.9 1723.4V1749.0M470.9 1722.6V1763.5M472.9 1718.6V1762.5M474.9 1726.8V1762.5M476.9 1735.3V1764.1M478.9 1728.2V1764.1M480.9 1724.9V1753.5M482.9 1720.5V1755.9M484.9 1716.7V1761.5M486.9 1724.5V1764.9M488.9 1724.4V1751.7M490.9 1733.2V1759.3M492.9 1711.7V1768.1M494.9 1731.5V1768.1M496.9 1727.1V1758.7M498.9 1724.8V1763.7M500.9 1722.6V1757.0M502.9 1722.7V1757.0M504.9 1717.5V1759.6M506.9 1720.9V1759.6M508.9 1721.3V1761.0M510.9 1726.5V1761.0M512.9 1732.4V1756.7M514.9 1720.6V1756.7M516.8 1726.4V1751.6M518.8 1717.4V1752.9M520.8 1704.9V1765.5M522.8 1704.9V1775.6M524.8 1727.0V1769.3M526.8 1726.7V1756.9M528.8 1728.2V1755.3M530.8 1725.8V1753.1M532.8 1728.3V1761.8M534.8 1726.1V1761.8M536.8 1726.2V1758.4M538.8 1724.8V1760.3M540.8 1727.8V1767.4M542.8 1727.2V1750.7M544.8 1729.3V1760.4M546.8 1735.8V1766.6M548.8 1718.8V1755.9M550.8 1727.3V1756.4M552.8 1737.6V1760.0M554.8 1724.8V1767.6M556.8 1719.3V1760.2M558.8 1723.9V1758.1M560.8 1718.0V1753.0M562.8 1729.9V1751.6M564.8 1732.0V1751.8M566.8 1720.7V1755.4M568.8 1722.1V1747.5M570.8 1726.7V1761.7M572.8 1729.6V1760.3M574.8 1727.7V1766.9M576.8 1714.7V1759.3M578.8 1722.5V1749.7M580.8 1722.5V1765.1M582.8 1725.1V1763.9M584.8 1728.9V1753.3M586.8 1723.7V1762.0M588.8 1727.1V1760.2M590.8 1727.3V1753.6M592.8 1724.4V1754.8M594.8 1711.6V1753.9M596.8 1724.1V1756.0M598.8 1733.0V1757.4M600.8 1729.4V1751.1M602.8 1732.4V1767.1M604.8 1732.0V1758.6M606.8 1725.6V1754.0M608.8 1713.5V1754.1M610.8 1713.5V1770.5M612.8 1737.2V1760.3M614.8 1722.9V1750.6M616.8 1733.2V1752.7M618.8 1722.7V1760.3M620.8 1722.7V1764.9M622.8 1725.2V1760.7M624.8 1728.4V1755.8M626.8 1728.0V1755.6M628.8 1722.7V1762.6M630.8 1691.6V1747.4M632.8 1730.4V1750.2M634.8 1728.2V1772.9M636.8 1723.5V1751.7M638.8 1721.6V1750.4M640.8 1727.5V1754.7M642.8 1722.7V1759.4M644.8 1719.1V1759.4M646.8 1724.1V1756.9M648.8 1723.0V1750.9M650.8 1724.6V1757.0M652.8 1740.5V1761.2M654.8 1727.2V1756.5M656.8 1722.5V1771.9M658.7 1731.2V1761.4M660.7 1715.9V1761.4M662.7 1713.7V1742.2M664.7 1713.7V1754.5M666.7 1723.6V1761.5M668.7 1723.6V1767.5M670.7 1713.0V1747.1M672.7 1721.1V1768.1M674.7 1718.2V1771.6M676.7 1712.2V1751.3M678.7 1719.4V1750.5M680.7 1728.2V1758.2M682.7 1718.9V1750.9M684.7 1722.5V1751.5M686.7 1709.3V1740.4M688.7 1724.2V1755.4M690.7 1726.0V1752.9M692.7 1713.5V1752.9M694.7 1724.6V1746.2M696.7 1714.7V1753.4M698.7 1714.7V1754.8M700.7 1725.8V1752.1M702.7 1727.8V1756.9M704.7 1710.6V1736.8M706.7 1720.0V1748.3M708.7 1709.3V1757.5M710.7 1713.7V1756.4M712.7 1714.2V1756.4M714.7 1713.6V1746.8M716.7 1718.9V1748.3M718.7 1702.1V1751.9M720.7 1717.1V1758.1M722.7 1719.3V1741.8M724.7 1710.5V1748.9M726.7 1715.7V1753.4M728.7 1723.2V1761.3M730.7 1723.2V1753.5M732.7 1718.1V1740.5M734.7 1718.1V1753.8M736.7 1688.4V1765.1M738.7 1719.7V1765.1M740.7 1717.9V1750.9M742.7 1710.7V1750.3M744.7 1721.1V1749.9M746.7 1711.5V1744.1M748.7 1725.4V1758.3M750.7 1723.1V1742.5M752.7 1707.7V1740.9M754.7 1718.1V1736.5M756.7 1715.8V1745.1M758.7 1710.3V1748.2M760.7 1718.8V1745.0M762.7 1717.8V1762.8M764.7 1717.1V1747.8M766.7 1723.7V1760.9M768.7 1722.3V1754.5M770.7 1717.7V1744.6M772.7 1699.4V1745.5M774.7 1711.6V1749.0M776.7 1709.7V1749.1M778.7 1707.2V1762.3M780.7 1715.7V1738.5M782.7 1716.3V1746.0M784.7 1725.0V1747.8M786.7 1719.9V1746.9M788.7 1722.3V1744.5M790.7 1710.3V1763.3M792.7 1709.7V1756.6M794.7 1696.3V1752.9M796.7 1711.5V1744.3M798.7 1713.7V1737.6M800.7 1721.0V1745.7M802.6 1721.0V1760.9M804.6 1716.1V1756.8M806.6 1709.3V1755.2M808.6 1715.5V1755.3M810.6 1722.9V1746.6M812.6 1703.7V1763.1M814.6 1718.3V1749.2M816.6 1717.1V1749.9M818.6 1717.1V1759.6M820.6 1703.6V1741.4M822.6 1714.7V1749.6M824.6 1713.2V1742.2M826.6 1711.8V1754.3M828.6 1705.9V1758.7M830.6 1705.9V1748.5M832.6 1716.6V1749.4M834.6 1724.1V1749.3M836.6 1716.3V1765.7M838.6 1720.3V1746.3M840.6 1730.0V1756.4M842.6 1717.3V1743.5M844.6 1717.3V1755.6M846.6 1721.0V1749.2M848.6 1708.6V1749.2M850.6 1719.9V1753.2M852.6 1707.1V1751.4M854.6 1707.1V1741.9M856.6 1724.3V1764.6M858.6 1724.7V1764.6M860.6 1722.3V1753.7M862.6 1711.3V1748.6M864.6 1716.3V1743.5M866.6 1709.0V1752.2M868.6 1710.2V1757.3M870.6 1709.9V1751.9M872.6 1709.9V1751.1M874.6 1710.5V1756.3M876.6 1725.0V1756.3M878.6 1713.1V1743.7M880.6 1722.1V1745.3M882.6 1712.6V1754.3M884.6 1705.0V1753.9M886.6 1705.0V1750.1M888.6 1719.6V1745.2M890.6 1704.2V1736.2M892.6 1717.1V1741.0M894.6 1717.1V1750.0M896.6 1704.9V1744.7M898.6 1707.4V1749.7M900.6 1708.6V1748.6M902.6 1711.0V1745.7M904.6 1704.8V1745.7M906.6 1716.8V1735.5M908.6 1710.1V1744.5M910.6 1708.7V1749.9M912.6 1687.6V1749.9M914.6 1708.9V1751.7M916.6 1705.8V1737.1M918.6 1712.3V1746.1M920.6 1709.7V1748.0M922.6 1701.0V1751.8M924.6 1701.4V1743.6M926.6 1702.6V1739.2M928.6 1702.6V1738.8M930.6 1714.1V1746.7M932.6 1716.6V1743.4M934.6 1693.6V1759.6M936.6 1693.6V1740.2M938.6 1706.4V1741.2M940.6 1700.6V1730.1M942.6 1701.3V1749.7M944.5 1708.1V1737.9M946.5 1709.1V1738.0M948.5 1703.5V1732.0M950.5 1708.3V1746.1M952.5 1712.7V1746.0M954.5 1698.9V1750.7M956.5 1711.3V1759.2M958.5 1714.7V1739.5M960.5 1713.3V1754.9M962.5 1701.3V1740.4M964.5 1701.3V1748.6M966.5 1697.9V1743.1M968.5 1705.1V1760.0M970.5 1703.2V1741.2M972.5 1708.2V1756.8M974.5 1708.2V1734.9M976.5 1708.0V1749.3M978.5 1704.5V1748.6M980.5 1708.9V1745.5M982.5 1714.1V1741.1M984.5 1698.6V1747.7M986.5 1711.0V1741.7M988.5 1706.8V1746.8M990.5 1689.5V1746.8M992.5 1702.2V1754.9M994.5 1713.0V1738.0M996.5 1709.1V1739.8M998.5 1713.6V1746.9M1000.5 1714.0V1746.9M1002.5 1714.0V1746.2M1004.5 1705.4V1737.3M1006.5 1705.1V1733.5M1008.5 1697.3V1739.8M1010.5 1697.3V1735.3M1012.5 1717.3V1748.3M1014.5 1713.3V1740.7M1016.5 1706.2V1743.0M1018.5 1720.2V1746.7M1020.5 1707.1V1735.1M1022.5 1708.6V1749.0M1024.5 1707.1V1753.6M1026.5 1704.7V1742.8M1028.5 1710.6V1746.9M1030.5 1711.6V1743.8M1032.5 1710.3V1742.0M1034.5 1709.2V1748.4M1036.5 1709.2V1751.8M1038.5 1708.6V1748.5M1040.5 1716.6V1745.8M1042.5 1726.2V1745.9M1044.5 1705.0V1740.5M1046.5 1713.8V1739.5M1048.5 1722.0V1749.4M1050.5 1700.3V1741.0M1052.5 1706.9V1748.0M1054.5 1709.9V1759.4M1056.5 1717.2V1757.8M1058.5 1718.6V1764.3M1060.5 1717.1V1769.1M1062.5 1726.8V1750.4M1064.5 1720.0V1752.6M1066.5 1726.0V1749.8M1068.5 1720.2V1765.3M1070.5 1718.1V1749.3M1072.5 1710.5V1770.1M1074.5 1720.6V1750.6M1076.5 1726.4V1759.3M1078.5 1721.0V1740.1M1080.5 1718.2V1760.6M1082.5 1736.5V1760.6M1084.5 1730.4V1755.8M1086.4 1720.3V1759.1M1088.4 1723.8V1770.7M1090.4 1722.6V1776.4M1092.4 1723.4V1757.9M1094.4 1728.3V1766.9M1096.4 1703.9V1759.2M1098.4 1729.2V1756.9M1100.4 1715.9V1758.3M1102.4 1728.2V1754.3M1104.4 1720.7V1755.2M1106.4 1726.0V1763.4M1108.4 1718.9V1759.0M1110.4 1724.4V1761.3M1112.4 1727.7V1762.1M1114.4 1724.7V1773.9M1116.4 1713.4V1774.7M1118.4 1713.4V1758.5M1120.4 1720.2V1750.6M1122.4 1724.1V1756.0M1124.4 1719.7V1759.0M1126.4 1724.5V1763.6M1128.4 1728.3V1763.6M1130.4 1720.7V1760.7M1132.4 1736.5V1763.2M1134.4 1727.3V1775.1M1136.4 1723.9V1749.1M1138.4 1729.8V1750.1M1140.4 1724.1V1757.1M1142.4 1724.1V1761.3M1144.4 1731.1V1762.6M1146.4 1730.5V1743.0M1148.4 1726.6V1755.6M1150.4 1729.4V1749.3M1152.4 1708.8V1760.8M1154.4 1726.3V1762.8M1156.4 1723.0V1777.9M1158.4 1722.6V1751.5M1160.4 1728.3V1757.0M1162.4 1714.0V1753.8M1164.4 1714.0V1762.6M1166.4 1729.1V1768.2M1168.4 1724.7V1757.1M1170.4 1718.4V1757.1M1172.4 1719.9V1749.9M1174.4 1725.0V1749.8M1176.4 1724.1V1753.7M1178.4 1711.2V1756.0M1180.4 1708.0V1747.8M1182.4 1723.1V1743.1M1184.4 1725.2V1749.9M1186.4 1727.7V1757.3M1188.4 1720.4V1759.3M1190.4 1734.9V1759.3M1192.4 1734.9V1770.0M1194.4 1732.3V1759.7M1196.4 1725.9V1753.9M1198.4 1710.3V1765.5M1200.4 1718.2V1769.8M1202.4 1718.2V1764.1M1204.4 1720.0V1748.5M1206.4 1717.4V1782.2M1208.4 1727.1V1749.9M1210.4 1731.9V1766.9M1212.4 1731.9V1748.3M1214.4 1706.1V1747.0M1216.4 1711.0V1758.3M1218.4 1712.8V1758.3M1220.4 1712.8V1758.1M1222.4 1722.3V1754.3M1224.4 1722.3V1749.7M1226.4 1711.6V1754.2M1228.4 1711.6V1739.8M1230.3 1720.3V1756.2M1232.3 1716.8V1750.6M1234.3 1715.7V1757.0M1236.3 1712.0V1755.6M1238.3 1726.2V1749.9M1240.3 1719.7V1748.5M1242.3 1712.1V1746.9M1244.3 1728.7V1759.2M1246.3 1720.4V1744.9M1248.3 1724.9V1746.5M1250.3 1719.6V1761.9M1252.3 1723.7V1745.8M1254.3 1724.3V1747.1M1256.3 1728.5V1756.5M1258.3 1728.2V1757.5M1260.3 1728.9V1757.2M1262.3 1719.7V1754.4M1264.3 1720.4V1759.5M1266.3 1723.6V1757.0M1268.3 1710.7V1761.1M1270.3 1710.7V1749.4M1272.3 1710.9V1749.1M1274.3 1712.2V1749.5M1276.3 1717.9V1763.2M1278.3 1712.6V1756.8M1280.3 1702.2V1759.4M1282.3 1723.5V1753.6M1284.3 1708.6V1753.1M1286.3 1716.7V1744.7M1288.3 1716.5V1745.4M1290.3 1714.8V1755.5M1292.3 1716.9V1755.5M1294.3 1713.0V1752.1M1296.3 1719.7V1757.7M1298.3 1709.5V1749.1M1300.3 1716.5V1752.0M1302.3 1713.3V1746.0M1304.3 1717.9V1744.0M1306.3 1727.8V1756.6M1308.3 1723.4V1748.7M1310.3 1725.5V1739.1M1312.3 1714.4V1752.6M1314.3 1719.7V1754.6M1316.3 1707.2V1754.2M1318.3 1726.0V1746.9M1320.3 1721.0V1761.7M1322.3 1720.1V1756.7M1324.3 1720.4V1742.2M1326.3 1719.7V1751.2M1328.3 1728.7V1746.5M1330.3 1719.6V1751.5" stroke="#8c0000" stroke-width="2.0" fill="none"/>
<path d="M301.0 1717.4V1747.5M303.0 1712.3V1749.9M305.0 1719.0V1751.7M307.0 1714.0V1741.7M309.0 1720.0V1744.7M311.0 1714.1V1744.3M313.0 1710.9V1750.0M315.0 1721.2V1746.2M317.0 1720.3V1745.7M319.0 1712.4V1748.2M321.0 1717.4V1756.5M323.0 1721.4V1740.9M325.0 1715.6V1759.4M327.0 1719.6V1744.2M329.0 1718.7V1759.1M331.0 1718.2V1752.4M333.0 1717.0V1746.8M335.0 1713.0V1745.3M337.0 1721.0V1749.5M339.0 1715.5V1739.0M341.0 1707.9V1743.4M343.0 1716.8V1742.0M345.0 1709.5V1743.4M347.0 1717.6V1742.5M349.0 1718.7V1747.2M351.0 1720.1V1741.8M353.0 1717.0V1745.1M355.0 1723.0V1749.4M357.0 1711.5V1761.3M359.0 1725.1V1753.5M361.0 1717.0V1755.7M363.0 1718.4V1747.2M365.0 1719.3V1747.2M367.0 1714.9V1748.0M369.0 1729.7V1755.4M371.0 1714.9V1747.0M372.9 1716.4V1740.6M374.9 1721.5V1745.2M376.9 1722.6V1744.7M378.9 1712.1V1742.8M380.9 1720.7V1744.0M382.9 1722.2V1746.7M384.9 1721.1V1747.2M386.9 1718.0V1755.3M388.9 1718.8V1754.0M390.9 1715.0V1744.7M392.9 1711.3V1747.9M394.9 1720.5V1757.0M396.9 1714.0V1756.3M398.9 1720.3V1747.9M400.9 1720.7V1749.5M402.9 1719.4V1753.7M404.9 1719.3V1752.8M406.9 1713.1V1744.6M408.9 1721.8V1744.6M410.9 1725.6V1751.3M412.9 1723.8V1750.0M414.9 1721.1V1764.3M416.9 1726.4V1760.0M418.9 1723.1V1760.0M420.9 1721.8V1749.6M422.9 1724.5V1748.4M424.9 1719.4V1753.7M426.9 1720.0V1742.6M428.9 1721.6V1757.2M430.9 1714.8V1745.5M432.9 1733.6V1751.5M434.9 1725.7V1754.7M436.9 1728.8V1756.0M438.9 1718.9V1751.1M440.9 1722.2V1747.6M442.9 1712.6V1753.8M444.9 1723.5V1753.8M446.9 1720.9V1749.7M448.9 1718.3V1758.8M450.9 1719.8V1750.2M452.9 1727.0V1757.5M454.9 1720.0V1750.6M456.9 1731.8V1760.4M458.9 1732.8V1759.4M460.9 1717.7V1751.6M462.9 1727.5V1751.1M464.9 1727.0V1757.2M466.9 1725.5V1752.5M468.9 1723.5V1773.3M470.9 1721.3V1751.8M472.9 1722.4V1745.8M474.9 1711.0V1756.4M476.9 1732.2V1758.4M478.9 1727.7V1755.4M480.9 1721.1V1750.6M482.9 1727.8V1758.3M484.9 1727.6V1758.9M486.9 1727.6V1752.1M488.9 1730.0V1752.2M490.9 1727.1V1750.6M492.9 1717.2V1751.7M494.9 1723.9V1749.4M496.9 1723.6V1753.4M498.9 1729.8V1755.3M500.9 1729.7V1750.7M502.9 1724.2V1745.5M504.9 1733.3V1749.2M506.9 1733.8V1759.2M508.9 1726.2V1747.6M510.9 1737.1V1761.9M512.9 1722.7V1754.6M514.9 1722.7V1755.9M516.8 1727.5V1749.3M518.8 1725.5V1749.3M520.8 1724.0V1753.3M522.8 1725.6V1753.7M524.8 1728.4V1751.0M526.8 1724.9V1755.2M528.8 1724.9V1748.5M530.8 1729.9V1749.6M532.8 1725.3V1756.6M534.8 1724.6V1756.0M536.8 1730.3V1756.0M538.8 1727.3V1751.1M540.8 1731.2V1750.9M542.8 1721.2V1756.7M544.8 1724.7V1757.7M546.8 1728.4V1757.3M548.8 1724.5V1751.2M550.8 1723.0V1748.9M552.8 1724.5V1753.6M554.8 1732.8V1753.7M556.8 1721.9V1755.5M558.8 1731.4V1754.6M560.8 1725.4V1749.5M562.8 1723.3V1751.5M564.8 1730.3V1753.3M566.8 1728.2V1758.7M568.8 1731.2V1753.7M570.8 1732.9V1753.6M572.8 1729.9V1752.5M574.8 1729.4V1751.6M576.8 1729.4V1754.4M578.8 1735.5V1757.2M580.8 1718.3V1759.2M582.8 1733.2V1761.0M584.8 1727.5V1761.0M586.8 1729.3V1753.4M588.8 1730.9V1757.9M590.8 1724.7V1757.0M592.8 1728.0V1758.6M594.8 1725.3V1758.6M596.8 1729.3V1755.8M598.8 1728.5V1746.1M600.8 1724.7V1760.2M602.8 1724.9V1752.7M604.8 1719.2V1759.1M606.8 1727.3V1754.1M608.8 1729.9V1754.1M610.8 1726.0V1757.8M612.8 1722.4V1759.9M614.8 1735.4V1763.4M616.8 1725.6V1763.0M618.8 1733.1V1754.9M620.8 1732.4V1764.3M622.8 1728.0V1752.3M624.8 1726.8V1753.8M626.8 1733.9V1761.1M628.8 1730.4V1753.0M630.8 1730.4V1754.2M632.8 1727.4V1754.2M634.8 1724.4V1751.2M636.8 1727.3V1757.7M638.8 1730.6V1762.4M640.8 1724.7V1755.8M642.8 1723.9V1754.6M644.8 1722.5V1757.4M646.8 1732.3V1765.6M648.8 1730.4V1750.8M650.8 1724.0V1771.1M652.8 1731.7V1757.5M654.8 1722.3V1754.4M656.8 1729.1V1762.6M658.7 1732.2V1750.2M660.7 1721.0V1759.3M662.7 1722.0V1753.7M664.7 1731.7V1746.6M666.7 1727.8V1756.2M668.7 1719.3V1751.6M670.7 1724.0V1754.1M672.7 1727.7V1760.2M674.7 1726.4V1749.5M676.7 1732.5V1756.4M678.7 1726.7V1758.4M680.7 1726.7V1750.6M682.7 1730.1V1746.8M684.7 1726.6V1756.6M686.7 1726.6V1763.6M688.7 1729.5V1758.6M690.7 1729.9V1751.8M692.7 1728.0V1762.5M694.7 1731.9V1752.5M696.7 1725.1V1751.4M698.7 1731.0V1750.2M700.7 1718.4V1755.3M702.7 1713.2V1751.5M704.7 1723.1V1752.3M706.7 1732.8V1749.9M708.7 1729.0V1759.2M710.7 1726.6V1746.4M712.7 1718.7V1761.7M714.7 1730.0V1758.3M716.7 1726.5V1758.6M718.7 1730.9V1759.9M720.7 1733.4V1758.6M722.7 1728.5V1750.7M724.7 1722.5V1753.9M726.7 1726.1V1750.1M728.7 1728.8V1770.7M730.7 1725.6V1749.4M732.7 1734.5V1762.2M734.7 1714.1V1755.0M736.7 1728.2V1750.8M738.7 1722.0V1749.3M740.7 1721.1V1750.6M742.7 1724.5V1746.6M744.7 1729.1V1751.3M746.7 1725.6V1754.7M748.7 1725.8V1759.4M750.7 1726.2V1759.4M752.7 1725.5V1757.3M754.7 1731.2V1753.7M756.7 1730.1V1752.6M758.7 1729.1V1752.6M760.7 1728.4V1750.2M762.7 1725.7V1756.0M764.7 1733.3V1751.0M766.7 1732.4V1757.3M768.7 1730.4V1755.4M770.7 1725.4V1750.3M772.7 1725.3V1749.8M774.7 1729.4V1759.2M776.7 1729.2V1752.4M778.7 1727.8V1753.9M780.7 1724.9V1752.8M782.7 1724.0V1755.2M784.7 1721.5V1753.0M786.7 1728.6V1756.2M788.7 1728.6V1765.3M790.7 1722.9V1764.4M792.7 1725.8V1758.8M794.7 1723.4V1752.8M796.7 1720.3V1756.0M798.7 1726.3V1754.4M800.7 1722.5V1751.9M802.6 1722.5V1752.7M804.6 1727.9V1754.6M806.6 1721.2V1750.3M808.6 1731.6V1752.4M810.6 1727.5V1753.4M812.6 1727.5V1755.5M814.6 1718.4V1753.9M816.6 1729.0V1747.4M818.6 1724.7V1760.3M820.6 1727.1V1750.9M822.6 1720.1V1757.0M824.6 1728.6V1756.4M826.6 1727.1V1754.2M828.6 1734.7V1757.7M830.6 1725.9V1750.1M832.6 1726.6V1747.6M834.6 1727.8V1764.4M836.6 1724.7V1755.6M838.6 1726.2V1751.6M840.6 1735.2V1756.5M842.6 1729.3V1746.5M844.6 1725.6V1743.9M846.6 1728.2V1757.3M848.6 1726.0V1761.1M850.6 1718.0V1752.5M852.6 1718.0V1757.9M854.6 1725.4V1759.0M856.6 1725.4V1751.7M858.6 1722.1V1748.7M860.6 1727.6V1762.1M862.6 1732.9V1751.8M864.6 1730.4V1773.6M866.6 1732.4V1773.6M868.6 1723.8V1754.3M870.6 1729.6V1749.8M872.6 1729.6V1754.5M874.6 1724.8V1756.3M876.6 1724.6V1747.8M878.6 1720.0V1757.1M880.6 1727.6V1757.1M882.6 1725.7V1763.2M884.6 1727.9V1763.5M886.6 1728.7V1757.9M888.6 1732.5V1757.9M890.6 1714.1V1768.7M892.6 1724.5V1751.0M894.6 1723.9V1757.6M896.6 1730.4V1752.1M898.6 1729.1V1768.0M900.6 1725.8V1752.5M902.6 1721.1V1744.9M904.6 1727.7V1751.7M906.6 1724.3V1755.6M908.6 1720.3V1760.0M910.6 1720.8V1760.3M912.6 1721.4V1752.9M914.6 1734.3V1748.8M916.6 1730.2V1755.7M918.6 1735.8V1751.1M920.6 1725.7V1755.4M922.6 1722.4V1757.4M924.6 1725.0V1747.8M926.6 1726.8V1749.5M928.6 1724.1V1750.7M930.6 1729.4V1757.9M932.6 1734.6V1750.5M934.6 1725.2V1753.2M936.6 1727.0V1756.3M938.6 1733.4V1757.3M940.6 1725.0V1759.5M942.6 1725.5V1755.6M944.5 1726.8V1764.1M946.5 1724.1V1749.0M948.5 1729.6V1755.6M950.5 1726.4V1753.7M952.5 1719.6V1744.7M954.5 1724.6V1750.0M956.5 1730.6V1753.5M958.5 1728.0V1754.1M960.5 1726.9V1754.4M962.5 1728.2V1756.8M964.5 1724.1V1760.3M966.5 1731.7V1757.1M968.5 1723.5V1750.2M970.5 1732.9V1753.1M972.5 1721.7V1758.0M974.5 1726.8V1753.2M976.5 1724.7V1751.8M978.5 1722.3V1757.4M980.5 1724.2V1759.1M982.5 1726.2V1758.9M984.5 1729.0V1756.8M986.5 1726.3V1751.0M988.5 1726.3V1754.0M990.5 1723.7V1757.5M992.5 1725.8V1761.7M994.5 1725.6V1759.3M996.5 1722.4V1758.8M998.5 1722.4V1756.1M1000.5 1714.8V1749.6M1002.5 1726.2V1751.5M1004.5 1720.7V1749.6M1006.5 1728.7V1755.9M1008.5 1728.7V1755.5M1010.5 1729.3V1760.7M1012.5 1729.8V1763.1M1014.5 1714.3V1754.2M1016.5 1734.5V1754.2M1018.5 1721.6V1749.6M1020.5 1723.3V1753.6M1022.5 1726.0V1759.6M1024.5 1724.8V1755.8M1026.5 1721.3V1754.0M1028.5 1734.8V1754.0M1030.5 1724.3V1754.2M1032.5 1724.3V1754.6M1034.5 1731.3V1752.3M1036.5 1728.3V1750.9M1038.5 1730.0V1756.5M1040.5 1729.4V1751.0M1042.5 1717.1V1754.6M1044.5 1723.1V1749.1M1046.5 1726.1V1756.6M1048.5 1731.2V1763.7M1050.5 1732.2V1752.6M1052.5 1724.9V1755.0M1054.5 1723.1V1749.7M1056.5 1724.8V1755.7M1058.5 1724.5V1753.7M1060.5 1729.7V1755.0M1062.5 1726.9V1755.7M1064.5 1726.2V1754.4M1066.5 1736.6V1760.3M1068.5 1723.9V1763.0M1070.5 1728.2V1766.4M1072.5 1729.8V1758.8M1074.5 1722.6V1759.4M1076.5 1731.3V1751.7M1078.5 1732.1V1749.4M1080.5 1727.9V1753.5M1082.5 1725.7V1749.4M1084.5 1724.6V1753.7M1086.4 1727.4V1761.4M1088.4 1731.9V1754.7M1090.4 1734.5V1754.2M1092.4 1715.7V1748.1M1094.4 1729.0V1750.2M1096.4 1726.0V1752.0M1098.4 1725.8V1760.2M1100.4 1722.8V1757.5M1102.4 1728.8V1756.2M1104.4 1728.8V1756.1M1106.4 1725.4V1755.9M1108.4 1727.5V1757.1M1110.4 1728.7V1759.0M1112.4 1725.0V1759.5M1114.4 1722.7V1760.3M1116.4 1734.4V1763.1M1118.4 1728.3V1751.5M1120.4 1724.3V1755.1M1122.4 1733.4V1764.6M1124.4 1723.9V1754.9M1126.4 1722.5V1757.1M1128.4 1737.1V1764.7M1130.4 1729.6V1768.0M1132.4 1727.2V1749.5M1134.4 1727.6V1753.5M1136.4 1729.0V1754.8M1138.4 1734.7V1757.5M1140.4 1734.6V1757.5M1142.4 1727.1V1759.1M1144.4 1721.8V1761.5M1146.4 1719.1V1757.6M1148.4 1728.2V1757.6M1150.4 1728.5V1751.5M1152.4 1722.0V1758.0M1154.4 1730.8V1750.3M1156.4 1723.6V1765.1M1158.4 1726.3V1765.1M1160.4 1726.8V1748.4M1162.4 1732.1V1756.5M1164.4 1733.2V1759.7M1166.4 1729.6V1750.4M1168.4 1717.3V1750.0M1170.4 1717.9V1748.6M1172.4 1726.1V1750.0M1174.4 1727.1V1758.3M1176.4 1727.1V1761.6M1178.4 1723.3V1756.1M1180.4 1728.8V1755.3M1182.4 1721.9V1750.3M1184.4 1724.2V1751.3M1186.4 1728.6V1754.5M1188.4 1727.0V1756.7M1190.4 1730.4V1764.8M1192.4 1725.8V1755.8M1194.4 1725.8V1763.3M1196.4 1724.2V1750.0M1198.4 1725.9V1750.3M1200.4 1722.0V1767.1M1202.4 1724.7V1767.1M1204.4 1734.1V1756.6M1206.4 1724.5V1756.4M1208.4 1724.8V1759.0M1210.4 1729.5V1752.6M1212.4 1735.3V1753.2M1214.4 1730.7V1754.3M1216.4 1729.3V1754.1M1218.4 1727.8V1746.0M1220.4 1729.9V1765.3M1222.4 1729.3V1758.4M1224.4 1735.1V1762.6M1226.4 1731.5V1752.5M1228.4 1726.2V1759.6M1230.3 1723.5V1758.5M1232.3 1726.1V1755.4M1234.3 1719.1V1754.0M1236.3 1710.9V1757.1M1238.3 1719.3V1754.1M1240.3 1724.9V1753.9M1242.3 1728.1V1752.1M1244.3 1728.5V1747.9M1246.3 1724.5V1757.2M1248.3 1727.1V1755.3M1250.3 1727.1V1759.4M1252.3 1729.2V1751.7M1254.3 1725.8V1754.3M1256.3 1721.6V1763.7M1258.3 1725.2V1752.5M1260.3 1730.0V1753.4M1262.3 1726.1V1747.5M1264.3 1735.2V1762.7M1266.3 1726.7V1762.7M1268.3 1732.6V1762.4M1270.3 1733.3V1755.5M1272.3 1733.4V1750.7M1274.3 1737.1V1756.8M1276.3 1727.4V1759.0M1278.3 1724.0V1758.9M1280.3 1720.7V1771.6M1282.3 1734.0V1754.3M1284.3 1732.2V1754.3M1286.3 1728.2V1759.0M1288.3 1728.5V1750.9M1290.3 1723.1V1759.8M1292.3 1727.6V1756.0M1294.3 1727.6V1759.5M1296.3 1731.0V1752.3M1298.3 1729.4V1755.8M1300.3 1725.9V1753.7M1302.3 1723.4V1766.2M1304.3 1727.0V1752.3M1306.3 1729.1V1751.3M1308.3 1729.1V1750.4M1310.3 1724.3V1755.2M1312.3 1729.0V1753.6M1314.3 1731.4V1751.1M1316.3 1731.9V1759.7M1318.3 1730.1V1752.5M1320.3 1733.0V1758.8M1322.3 1724.5V1755.2M1324.3 1719.5V1755.2M1326.3 1732.6V1763.2M1328.3 1716.9V1757.4M1330.3 1726.4V1756.1" stroke="#ff0000" stroke-width="2.0" fill="none"/>
<path d="M301.0 1731.0V1745.1M303.0 1731.5V1747.3M305.0 1735.2V1747.2M307.0 1734.1V1749.1M309.0 1728.9V1749.1M311.0 1734.0V1743.8M313.0 1736.0V1747.1M315.0 1734.8V1749.8M317.0 1732.7V1749.1M319.0 1733.7V1749.1M321.0 1733.5V1748.2M323.0 1734.0V1747.2M325.0 1733.9V1751.5M327.0 1738.0V1749.0M329.0 1734.6V1754.7M331.0 1731.7V1748.9M333.0 1735.2V1753.8M335.0 1735.7V1749.1M337.0 1731.3V1754.2M339.0 1738.8V1755.1M341.0 1737.6V1751.7M343.0 1737.6V1746.2M345.0 1735.9V1752.4M347.0 1737.9V1754.9M349.0 1738.8V1751.2M351.0 1734.3V1749.7M353.0 1734.6V1756.1M355.0 1735.7V1750.4M357.0 1735.3V1751.4M359.0 1741.7V1751.9M361.0 1737.4V1756.4M363.0 1737.4V1750.9M365.0 1736.2V1749.1M367.0 1735.6V1751.4M369.0 1737.1V1746.7M371.0 1737.9V1752.0M372.9 1734.7V1751.5M374.9 1737.7V1749.8M376.9 1735.5V1749.1M378.9 1735.8V1751.5M380.9 1737.7V1751.6M382.9 1734.6V1757.5M384.9 1736.9V1757.5M386.9 1734.8V1753.5M388.9 1737.5V1749.7M390.9 1736.3V1753.3M392.9 1736.0V1755.6M394.9 1736.7V1759.0M396.9 1736.7V1755.0M398.9 1738.3V1750.0M400.9 1734.6V1751.4M402.9 1732.7V1754.1M404.9 1734.5V1750.9M406.9 1729.8V1753.3M408.9 1735.8V1751.6M410.9 1735.9V1753.7M412.9 1736.7V1751.0M414.9 1739.9V1753.5M416.9 1735.6V1750.7M418.9 1738.3V1750.7M420.9 1735.9V1748.9M422.9 1734.5V1749.3M424.9 1735.4V1749.4M426.9 1738.7V1753.5M428.9 1737.9V1756.6M430.9 1735.8V1751.4M432.9 1730.0V1749.1M434.9 1730.0V1749.2M436.9 1732.8V1749.8M438.9 1739.4V1752.7M440.9 1735.1V1752.9M442.9 1733.0V1751.7M444.9 1730.5V1754.7M446.9 1738.7V1751.2M448.9 1735.9V1753.0M450.9 1736.4V1749.3M452.9 1735.3V1753.2M454.9 1735.3V1756.3M456.9 1733.8V1751.5M458.9 1737.2V1752.0M460.9 1737.3V1747.8M462.9 1737.0V1755.8M464.9 1738.2V1748.1M466.9 1735.5V1753.2M468.9 1736.3V1753.2M470.9 1737.3V1748.3M472.9 1738.0V1747.7M474.9 1736.9V1753.0M476.9 1738.7V1750.4M478.9 1732.6V1748.7M480.9 1736.1V1752.8M482.9 1736.3V1752.9M484.9 1738.7V1749.5M486.9 1734.4V1751.8M488.9 1735.5V1747.4M490.9 1736.8V1751.3M492.9 1735.3V1751.5M494.9 1737.4V1751.6M496.9 1735.2V1750.4M498.9 1736.5V1751.4M500.9 1738.4V1757.0M502.9 1735.3V1750.6M504.9 1741.1V1751.6M506.9 1737.4V1748.8M508.9 1738.9V1751.1M510.9 1737.2V1750.4M512.9 1740.5V1750.5M514.9 1733.3V1753.1M516.8 1738.0V1752.1M518.8 1735.9V1750.5M520.8 1736.0V1748.2M522.8 1736.9V1754.9M524.8 1737.5V1750.5M526.8 1732.7V1752.4M528.8 1737.5V1752.8M530.8 1735.5V1752.9M532.8 1734.8V1752.7M534.8 1734.8V1750.2M536.8 1738.5V1751.3M538.8 1735.2V1747.3M540.8 1734.6V1753.2M542.8 1736.4V1752.8M544.8 1737.2V1754.2M546.8 1735.5V1755.5M548.8 1737.1V1755.0M550.8 1737.1V1754.2M552.8 1734.3V1753.0M554.8 1731.5V1754.2M556.8 1732.8V1752.4M558.8 1738.1V1752.1M560.8 1739.5V1752.2M562.8 1734.2V1752.4M564.8 1738.3V1753.3M566.8 1740.0V1753.3M568.8 1736.7V1752.7M570.8 1735.9V1748.5M572.8 1738.7V1748.5M574.8 1730.8V1755.2M576.8 1735.2V1753.5M578.8 1736.9V1750.4M580.8 1738.1V1750.1M582.8 1734.9V1749.4M584.8 1732.7V1750.4M586.8 1738.3V1749.1M588.8 1738.7V1751.3M590.8 1734.0V1749.4M592.8 1735.4V1749.2M594.8 1735.0V1752.4M596.8 1735.6V1753.3M598.8 1736.3V1753.9M600.8 1737.6V1751.1M602.8 1736.8V1753.0M604.8 1736.7V1751.9M606.8 1735.5V1753.2M608.8 1734.9V1753.2M610.8 1737.2V1756.2M612.8 1732.6V1747.0M614.8 1737.1V1749.4M616.8 1739.3V1752.9M618.8 1738.0V1757.3M620.8 1738.2V1752.1M622.8 1737.2V1752.0M624.8 1735.5V1749.6M626.8 1737.2V1751.9M628.8 1731.9V1751.8M630.8 1732.3V1756.1M632.8 1736.1V1752.3M634.8 1737.1V1746.8M636.8 1734.2V1756.1M638.8 1739.4V1751.5M640.8 1737.1V1750.9M642.8 1731.6V1748.5M644.8 1731.7V1752.5M646.8 1737.1V1749.6M648.8 1739.8V1754.8M650.8 1737.6V1755.6M652.8 1737.8V1753.4M654.8 1734.6V1754.8M656.8 1737.8V1753.0M658.7 1734.7V1749.8M660.7 1736.0V1750.7M662.7 1733.3V1752.0M664.7 1739.1V1752.0M666.7 1731.0V1750.4M668.7 1735.6V1751.2M670.7 1739.4V1754.5M672.7 1734.6V1750.2M674.7 1735.1V1755.4M676.7 1737.9V1753.5M678.7 1735.5V1753.7M680.7 1736.3V1753.3M682.7 1734.3V1752.3M684.7 1737.7V1752.9M686.7 1739.3V1751.5M688.7 1734.5V1753.6M690.7 1734.7V1752.4M692.7 1734.7V1754.5M694.7 1737.2V1759.9M696.7 1737.2V1751.7M698.7 1737.5V1752.1M700.7 1733.5V1751.3M702.7 1732.9V1750.1M704.7 1735.3V1750.2M706.7 1737.6V1752.7M708.7 1739.1V1749.5M710.7 1736.1V1751.5M712.7 1739.8V1751.5M714.7 1729.6V1751.6M716.7 1738.2V1752.9M718.7 1734.2V1756.7M720.7 1729.1V1756.7M722.7 1736.6V1750.1M724.7 1739.9V1750.8M726.7 1737.9V1754.9M728.7 1732.0V1754.7M730.7 1737.8V1750.7M732.7 1737.8V1753.2M734.7 1740.1V1749.1M736.7 1733.7V1745.8M738.7 1734.8V1748.3M740.7 1734.7V1755.3M742.7 1734.7V1752.3M744.7 1730.2V1752.9M746.7 1740.7V1748.8M748.7 1735.3V1749.3M750.7 1740.4V1752.9M752.7 1733.4V1751.0M754.7 1735.4V1751.4M756.7 1734.3V1750.0M758.7 1736.5V1750.9M760.7 1735.8V1750.2M762.7 1735.8V1756.5M764.7 1738.6V1751.2M766.7 1738.6V1754.6M768.7 1736.8V1748.6M770.7 1734.3V1747.2M772.7 1734.2V1749.3M774.7 1737.9V1753.9M776.7 1735.7V1751.8M778.7 1738.6V1752.8M780.7 1734.7V1748.0M782.7 1738.8V1751.6M784.7 1738.2V1748.7M786.7 1735.1V1749.7M788.7 1735.9V1755.2M790.7 1738.0V1751.3M792.7 1736.6V1754.7M794.7 1735.3V1749.5M796.7 1736.9V1747.0M798.7 1737.6V1746.7M800.7 1737.3V1754.7M802.6 1735.5V1749.6M804.6 1734.0V1750.4M806.6 1734.0V1751.6M808.6 1736.4V1751.6M810.6 1738.5V1750.6M812.6 1735.9V1749.2M814.6 1735.5V1754.6M816.6 1735.5V1750.1M818.6 1735.7V1757.8M820.6 1735.7V1749.0M822.6 1735.6V1752.4M824.6 1735.7V1751.3M826.6 1737.9V1751.0M828.6 1736.5V1750.7M830.6 1738.0V1750.9M832.6 1738.2V1751.4M834.6 1737.3V1757.7M836.6 1731.8V1752.8M838.6 1733.4V1751.4M840.6 1740.8V1754.2M842.6 1736.3V1749.8M844.6 1736.1V1756.5M846.6 1736.7V1754.0M848.6 1735.2V1753.2M850.6 1738.9V1749.8M852.6 1735.3V1751.8M854.6 1735.3V1750.9M856.6 1734.8V1758.3M858.6 1739.6V1753.4M860.6 1734.6V1752.8M862.6 1733.6V1755.2M864.6 1736.9V1751.1M866.6 1734.9V1748.4M868.6 1731.2V1750.9M870.6 1730.9V1753.4M872.6 1735.3V1749.2M874.6 1734.4V1757.4M876.6 1733.2V1751.0M878.6 1733.4V1748.4M880.6 1733.4V1750.3M882.6 1731.4V1749.4M884.6 1734.3V1748.7M886.6 1734.7V1747.9M888.6 1735.0V1752.6M890.6 1734.4V1749.3M892.6 1732.8V1748.4M894.6 1735.7V1749.0M896.6 1736.9V1748.3M898.6 1734.1V1748.3M900.6 1729.7V1748.4M902.6 1731.5V1748.4M904.6 1737.2V1748.0M906.6 1730.5V1752.1M908.6 1728.3V1747.1M910.6 1736.8V1748.5M912.6 1733.7V1746.3M914.6 1731.0V1750.0M916.6 1733.6V1749.9M918.6 1734.3V1748.2M920.6 1735.0V1753.2M922.6 1735.0V1752.8M924.6 1732.1V1749.4M926.6 1732.1V1745.7M928.6 1731.7V1756.9M930.6 1728.1V1756.9M932.6 1734.3V1748.5M934.6 1732.9V1753.8M936.6 1732.9V1744.9M938.6 1729.0V1752.9M940.6 1736.3V1751.4M942.6 1732.4V1753.6M944.5 1728.1V1752.0M946.5 1735.8V1749.2M948.5 1727.9V1746.8M950.5 1727.9V1749.8M952.5 1732.4V1750.5M954.5 1727.9V1747.6M956.5 1727.9V1748.6M958.5 1735.5V1752.4M960.5 1732.9V1749.4M962.5 1733.0V1749.2M964.5 1726.1V1746.4M966.5 1735.4V1747.1M968.5 1732.3V1747.1M970.5 1732.3V1749.3M972.5 1734.9V1750.0M974.5 1733.3V1752.9M976.5 1733.9V1750.8M978.5 1736.2V1751.4M980.5 1734.5V1747.7M982.5 1734.0V1752.2M984.5 1736.1V1754.6M986.5 1731.9V1747.9M988.5 1732.9V1747.9M990.5 1735.8V1751.5M992.5 1735.7V1750.9M994.5 1734.9V1749.6M996.5 1734.9V1756.1M998.5 1731.6V1749.4M1000.5 1730.9V1749.2M1002.5 1733.5V1751.8M1004.5 1736.4V1748.0M1006.5 1732.4V1746.7M1008.5 1729.6V1751.0M1010.5 1733.6V1749.8M1012.5 1734.9V1758.2M1014.5 1732.2V1752.0M1016.5 1731.2V1747.1M1018.5 1738.6V1751.8M1020.5 1734.9V1749.2M1022.5 1735.5V1753.5M1024.5 1734.6V1751.0M1026.5 1734.2V1751.5M1028.5 1731.9V1749.3M1030.5 1734.6V1749.1M1032.5 1732.0V1753.9M1034.5 1733.2V1753.9M1036.5 1733.8V1752.0M1038.5 1726.2V1758.8M1040.5 1735.1V1753.1M1042.5 1734.2V1747.2M1044.5 1734.9V1756.2M1046.5 1734.9V1746.1M1048.5 1732.3V1755.0M1050.5 1731.9V1749.4M1052.5 1726.9V1749.4M1054.5 1726.9V1752.8M1056.5 1735.5V1754.2M1058.5 1737.9V1751.3M1060.5 1735.8V1753.3M1062.5 1735.8V1752.7M1064.5 1735.7V1750.7M1066.5 1736.2V1750.1M1068.5 1734.4V1751.6M1070.5 1734.4V1758.2M1072.5 1734.3V1756.7M1074.5 1735.4V1754.0M1076.5 1730.7V1754.7M1078.5 1732.4V1750.4M1080.5 1729.4V1746.9M1082.5 1733.9V1754.0M1084.5 1736.5V1752.5M1086.4 1733.6V1750.8M1088.4 1735.4V1750.7M1090.4 1735.4V1752.0M1092.4 1728.4V1748.0M1094.4 1733.6V1750.8M1096.4 1733.7V1750.0M1098.4 1734.2V1749.4M1100.4 1734.3V1754.7M1102.4 1732.6V1749.0M1104.4 1733.3V1755.8M1106.4 1734.8V1752.7M1108.4 1738.9V1752.7M1110.4 1734.7V1751.1M1112.4 1730.2V1753.0M1114.4 1735.9V1752.5M1116.4 1736.1V1755.3M1118.4 1731.9V1754.5M1120.4 1730.3V1747.2M1122.4 1736.0V1755.3M1124.4 1733.5V1753.8M1126.4 1733.5V1752.7M1128.4 1730.0V1752.7M1130.4 1733.9V1753.7M1132.4 1726.6V1753.9M1134.4 1735.2V1755.6M1136.4 1730.4V1755.1M1138.4 1736.3V1750.8M1140.4 1734.1V1751.3M1142.4 1734.1V1754.7M1144.4 1732.8V1751.5M1146.4 1730.2V1753.2M1148.4 1733.7V1752.6M1150.4 1733.4V1751.0M1152.4 1736.0V1751.9M1154.4 1733.5V1751.5M1156.4 1735.6V1753.2M1158.4 1734.9V1752.0M1160.4 1734.9V1750.7M1162.4 1739.9V1752.5M1164.4 1738.8V1750.9M1166.4 1740.0V1754.1M1168.4 1729.9V1751.5M1170.4 1729.9V1753.8M1172.4 1734.8V1751.2M1174.4 1737.0V1750.7M1176.4 1732.1V1752.6M1178.4 1735.7V1750.6M1180.4 1736.0V1759.0M1182.4 1736.5V1748.0M1184.4 1735.1V1748.9M1186.4 1732.9V1753.3M1188.4 1733.5V1751.9M1190.4 1736.9V1749.2M1192.4 1736.5V1750.0M1194.4 1737.9V1752.7M1196.4 1732.4V1751.9M1198.4 1737.4V1746.1M1200.4 1735.6V1751.0M1202.4 1739.2V1752.1M1204.4 1736.9V1750.2M1206.4 1735.2V1752.5M1208.4 1735.2V1753.7M1210.4 1734.9V1752.1M1212.4 1732.7V1749.7M1214.4 1736.7V1750.0M1216.4 1724.7V1749.7M1218.4 1727.4V1750.7M1220.4 1734.7V1751.8M1222.4 1733.3V1748.9M1224.4 1737.8V1754.0M1226.4 1739.7V1749.8M1228.4 1735.7V1749.9M1230.3 1735.9V1753.0M1232.3 1730.5V1754.0M1234.3 1731.6V1754.1M1236.3 1736.7V1749.0M1238.3 1732.0V1755.6M1240.3 1733.4V1751.7M1242.3 1733.2V1750.2M1244.3 1736.8V1751.9M1246.3 1734.2V1752.4M1248.3 1730.0V1753.9M1250.3 1738.3V1755.3M1252.3 1735.7V1750.6M1254.3 1737.7V1754.2M1256.3 1732.7V1747.7M1258.3 1733.0V1758.0M1260.3 1733.6V1755.5M1262.3 1733.5V1755.5M1264.3 1727.5V1750.2M1266.3 1726.3V1753.8M1268.3 1737.4V1752.3M1270.3 1735.2V1750.7M1272.3 1731.6V1748.1M1274.3 1727.7V1751.7M1276.3 1733.5V1748.7M1278.3 1734.6V1754.2M1280.3 1731.7V1754.0M1282.3 1734.0V1753.8M1284.3 1734.6V1751.0M1286.3 1733.2V1748.7M1288.3 1739.1V1750.2M1290.3 1737.9V1755.9M1292.3 1728.7V1746.8M1294.3 1734.6V1754.0M1296.3 1734.7V1747.7M1298.3 1733.8V1747.3M1300.3 1730.9V1757.4M1302.3 1735.2V1750.0M1304.3 1735.4V1753.5M1306.3 1730.4V1748.8M1308.3 1733.7V1749.7M1310.3 1733.6V1751.4M1312.3 1731.8V1752.4M1314.3 1733.3V1750.1M1316.3 1732.2V1753.2M1318.3 1730.6V1751.0M1320.3 1733.0V1751.8M1322.3 1730.9V1755.8M1324.3 1737.9V1748.1M1326.3 1732.7V1747.6M1328.3 1732.7V1749.4M1330.3 1733.9V1752.3" stroke="#000096" stroke-width="2.0" fill="none"/>
<path d="M301.5 1746.3H1397" stroke="#999" stroke-width="1.8" stroke-dasharray="6.5 5.4"/>
<text transform="matrix(0.698 0 0 0.692 -2.271 51.852)" fill="#000" font-style="italic">(a)</text>
<text transform="matrix(0.698 0 0 0.689 -1.971 524.421)" fill="#000" font-style="italic">(b)</text>
<text transform="matrix(0.657 0 0 0.696 -1.778 1068.284)" fill="#000" font-style="italic">(c)</text>
<text transform="matrix(0.692 0 0 0.689 1.854 1425.921)" fill="#000" font-style="italic">(d)</text>
<text transform="matrix(0 -0.573 0.573 0 163.3 370.87)" fill="#000">i</text>
<text transform="matrix(0 -0.422 0.395 0 176.8 356.095)" fill="#000">M</text>
<text transform="matrix(0 -0.864 0.736 0 170.65 306.8)" fill="#000" stroke="#fff" stroke-width="2.508">/</text>
<text transform="matrix(0 -0.56 0.556 0 161.127 265.2)" fill="#000">µA</text>
<text transform="matrix(0 -0.56 0.548 0 161.944 178.75)" fill="#000">cm</text>
<text transform="matrix(0 -0.361 0.309 0 142.167 101.429)" fill="#000">-</text>
<text transform="matrix(0 -0.358 0.383 0 144.1 88.08)" fill="#000">2</text>
<text transform="matrix(0 -0.573 0.573 0 163.3 874.07)" fill="#000">i</text>
<text transform="matrix(0 -0.422 0.395 0 176.8 859.295)" fill="#000">M</text>
<text transform="matrix(0 -0.864 0.736 0 170.65 810)" fill="#000" stroke="#fff" stroke-width="2.508">/</text>
<text transform="matrix(0 -0.56 0.556 0 161.127 768.4)" fill="#000">µA</text>
<text transform="matrix(0 -0.56 0.548 0 161.944 681.95)" fill="#000">cm</text>
<text transform="matrix(0 -0.361 0.309 0 142.167 604.629)" fill="#000">-</text>
<text transform="matrix(0 -0.358 0.383 0 144.1 591.28)" fill="#000">2</text>
<text transform="matrix(0 -0.573 0.573 0 174.2 1319.07)" fill="#000">i</text>
<text transform="matrix(0 -0.422 0.395 0 187.7 1304.295)" fill="#000">M</text>
<text transform="matrix(0 -0.864 0.736 0 181.55 1255)" fill="#000" stroke="#fff" stroke-width="2.508">/</text>
<text transform="matrix(0 -0.56 0.556 0 172.027 1213.4)" fill="#000">µA</text>
<text transform="matrix(0 -0.56 0.548 0 172.844 1126.95)" fill="#000">cm</text>
<text transform="matrix(0 -0.361 0.309 0 153.067 1049.629)" fill="#000">-</text>
<text transform="matrix(0 -0.358 0.383 0 155 1036.28)" fill="#000">2</text>
<text transform="matrix(0 -0.573 0.573 0 176.5 1783.17)" fill="#000">i</text>
<text transform="matrix(0 -0.422 0.395 0 190 1768.395)" fill="#000">M</text>
<text transform="matrix(0 -0.864 0.736 0 183.85 1719.1)" fill="#000" stroke="#fff" stroke-width="2.508">/</text>
<text transform="matrix(0 -0.56 0.556 0 174.327 1677.5)" fill="#000">µA</text>
<text transform="matrix(0 -0.56 0.548 0 175.144 1591.05)" fill="#000">cm</text>
<text transform="matrix(0 -0.361 0.309 0 155.367 1513.729)" fill="#000">-</text>
<text transform="matrix(0 -0.358 0.383 0 157.3 1500.38)" fill="#000">2</text>
<text transform="matrix(0.463 0 0 0.487 203.808 74.139)" fill="#000">15</text>
<text transform="matrix(0.471 0 0 0.479 203.755 188.452)" fill="#000">10</text>
<text transform="matrix(0.442 0 0 0.484 217.319 303.243)" fill="#000">5</text>
<text transform="matrix(0.476 0 0 0.481 216.112 415.748)" fill="#000">0</text>
<text transform="matrix(0.462 0 0 0.472 207.514 574.263)" fill="#000">15</text>
<text transform="matrix(0.473 0 0 0.483 207.342 689.446)" fill="#000">10</text>
<text transform="matrix(0.44 0 0 0.486 220.726 803.741)" fill="#000">5</text>
<text transform="matrix(0.48 0 0 0.479 219.4 916.552)" fill="#000">0</text>
<text transform="matrix(0.502 0 0 0.502 214.884 1087.215)" fill="#000">10</text>
<text transform="matrix(0.483 0 0 0.483 243.252 1317.246)" fill="#000">0</text>
<text transform="matrix(0.498 0 0 0.498 216.638 1531.122)" fill="#000">10</text>
<text transform="matrix(0.479 0 0 0.479 244.774 1761.052)" fill="#000">0</text>
<text transform="matrix(0.501 0 0 0.501 282.213 489.317)" fill="#000">0</text>
<text transform="matrix(0.501 0 0 0.501 429.804 489.317)" fill="#000">5</text>
<text transform="matrix(0.501 0 0 0.501 561.902 489.317)" fill="#000">10</text>
<text transform="matrix(0.501 0 0 0.501 709.494 489.317)" fill="#000">15</text>
<text transform="matrix(0.501 0 0 0.501 856.694 489.317)" fill="#000">20</text>
<text transform="matrix(0.501 0 0 0.501 1004.285 489.317)" fill="#000">25</text>
<text transform="matrix(0.501 0 0 0.501 1151.485 489.317)" fill="#000">30</text>
<text transform="matrix(0.501 0 0 0.501 1299.076 489.317)" fill="#000">35</text>
<text transform="matrix(0.501 0 0 0.501 286.313 989.517)" fill="#000">0</text>
<text transform="matrix(0.501 0 0 0.501 406.704 989.517)" fill="#000">5</text>
<text transform="matrix(0.501 0 0 0.501 511.602 989.517)" fill="#000">10</text>
<text transform="matrix(0.501 0 0 0.501 631.994 989.517)" fill="#000">15</text>
<text transform="matrix(0.501 0 0 0.501 751.994 989.517)" fill="#000">20</text>
<text transform="matrix(0.501 0 0 0.501 872.385 989.517)" fill="#000">25</text>
<text transform="matrix(0.501 0 0 0.501 992.385 989.517)" fill="#000">30</text>
<text transform="matrix(0.501 0 0 0.501 1112.776 989.517)" fill="#000">35</text>
<text transform="matrix(0.501 0 0 0.501 1232.776 989.517)" fill="#000">40</text>
<text transform="matrix(0.487 0 0 0.487 283.504 1428.239)" fill="#000">0</text>
<text transform="matrix(0.487 0 0 0.487 423.02 1428.239)" fill="#000">1000</text>
<text transform="matrix(0.487 0 0 0.487 604.301 1428.239)" fill="#000">2000</text>
<text transform="matrix(0.487 0 0 0.487 785.581 1428.239)" fill="#000">3000</text>
<text transform="matrix(0.487 0 0 0.487 966.861 1428.239)" fill="#000">4000</text>
<text transform="matrix(0.487 0 0 0.487 1147.381 1428.239)" fill="#000">5000</text>
<text transform="matrix(0.501 0 0 0.501 284.913 1874.617)" fill="#000">0</text>
<text transform="matrix(0.501 0 0 0.501 442.206 1874.617)" fill="#000">1000</text>
<text transform="matrix(0.501 0 0 0.501 642.458 1874.617)" fill="#000">2000</text>
<text transform="matrix(0.501 0 0 0.501 842.709 1874.617)" fill="#000">3000</text>
<text transform="matrix(0.501 0 0 0.501 1042.96 1874.617)" fill="#000">4000</text>
<text transform="matrix(0.501 0 0 0.501 1242.429 1874.617)" fill="#000">5000</text>
<text transform="matrix(0.522 0 0 0.429 1392 482.929)" fill="#000">time</text>
<text transform="matrix(0.725 0 0 0.592 1502.9 489.275)" fill="#000" stroke="#fff" stroke-width="2.747">/</text>
<text transform="matrix(0.384 0 0 0.427 1537.7 482.933)" fill="#000">s</text>
<text transform="matrix(0.522 0 0 0.429 1392 977.929)" fill="#000">time</text>
<text transform="matrix(0.725 0 0 0.592 1502.9 984.275)" fill="#000" stroke="#fff" stroke-width="2.747">/</text>
<text transform="matrix(0.384 0 0 0.427 1537.7 977.933)" fill="#000">s</text>
<text transform="matrix(0.522 0 0 0.429 1392 1433.929)" fill="#000">time</text>
<text transform="matrix(0.725 0 0 0.592 1502.9 1440.275)" fill="#000" stroke="#fff" stroke-width="2.747">/</text>
<text transform="matrix(0.384 0 0 0.427 1537.7 1433.933)" fill="#000">s</text>
<text transform="matrix(0.522 0 0 0.429 1402.8 1865.929)" fill="#000">time</text>
<text transform="matrix(0.725 0 0 0.592 1513.7 1872.275)" fill="#000" stroke="#fff" stroke-width="2.747">/</text>
<text transform="matrix(0.384 0 0 0.427 1548.5 1865.933)" fill="#000">s</text>
<text transform="matrix(0.532 0 0 0.535 396.408 91.195)" fill="#000">22Cr[F]</text>
<text transform="matrix(0.554 0 0 0.535 394.701 599.695)" fill="#000">22Cr6Mo[F]</text>
<text transform="matrix(0.524 0 0 0.541 395.942 1078.857)" fill="#000">22Cr[S]</text>
<text transform="matrix(0.549 0 0 0.525 395.427 1535.825)" fill="#000">22Cr6Mo[S]</text>
<text transform="matrix(0.577 0 0 0.577 1168.385 95.6)" fill="#ff0000">i</text>
<text transform="matrix(0.406 0 0 0.383 1181.627 109)" fill="#ff0000">Ni</text>
<text transform="matrix(0.577 0 0 0.577 1111.385 332.8)" fill="#00206b">i</text>
<text transform="matrix(0.36 0 0 0.391 1124.414 346.289)" fill="#00206b">Cr</text>
<text transform="matrix(0.573 0 0 0.573 1015.13 592.4)" fill="#ff0000">i</text>
<text transform="matrix(0.395 0 0 0.381 1028.815 606.1)" fill="#ff0000">Ni</text>
<text transform="matrix(0.586 0 0 0.586 1093.996 850.8)" fill="#00206b">i</text>
<text transform="matrix(0.359 0 0 0.385 1108.018 863.598)" fill="#00206b">Cr</text>
<text transform="matrix(0.462 0 0 0.462 1277.851 839.5)" fill="#c80000">i</text>
<text transform="matrix(0.357 0 0 0.316 1289.408 851.807)" fill="#c80000">Mo</text>
<text transform="matrix(0.579 0 0 0.579 478.72 1202.3)" fill="#ff0000">i</text>
<text transform="matrix(0.401 0 0 0.385 492.166 1215.6)" fill="#ff0000">Ni</text>
<text transform="matrix(0.573 0 0 0.573 1113.88 1236.4)" fill="#00206b">i</text>
<text transform="matrix(0.357 0 0 0.39 1127.628 1250.091)" fill="#00206b">Cr</text>
<text transform="matrix(0.587 0 0 0.587 354.931 1677.4)" fill="#ff0000">i</text>
<text transform="matrix(0.399 0 0 0.385 368.686 1691.2)" fill="#ff0000">Ni</text>
<text transform="matrix(0.586 0 0 0.586 950.046 1670.7)" fill="#c80000">i</text>
<text transform="matrix(0.431 0 0 0.381 963.13 1683.504)" fill="#c80000">Mo</text>
<text transform="matrix(0.584 0 0 0.584 1175.811 1680.8)" fill="#00206b">i</text>
<text transform="matrix(0.351 0 0 0.383 1189.456 1693.902)" fill="#00206b">Cr</text>
</svg>
</body></html>
